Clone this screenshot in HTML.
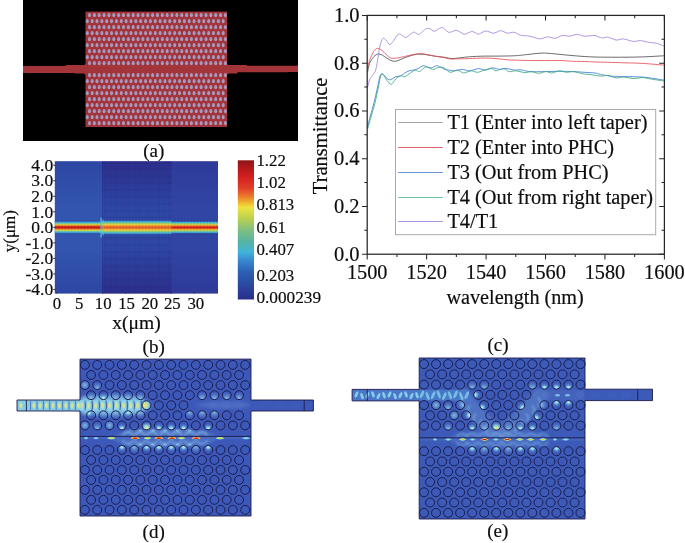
<!DOCTYPE html>
<html><head><meta charset="utf-8"><title>Figure</title>
<style>
html,body{margin:0;padding:0;background:#fff;}
body{width:685px;height:543px;overflow:hidden;}
svg{display:block;}
text{font-family:'Liberation Serif','Times New Roman',serif;fill:#0d0d0d;stroke:#0d0d0d;stroke-width:0.18px;}
</style></head><body>
<svg width="685" height="543" viewBox="0 0 685 543">
<g id="pa">
<rect x="23" y="0" width="275" height="141" fill="#000"/>
<path d="M23,65.9 H65.8 V65.1 H84 L86,64 V75 L84,73.6 H74.5 V72.9 H23 Z" fill="#a3343a"/>
<path d="M226,64 L229,65 H247 V65.8 H298 V72.1 H287.7 V72.2 H237.5 V73.4 H229 L226,75 Z" fill="#a3343a"/>
<rect x="85.5" y="11.6" width="141.6" height="115.4" fill="#a3343a"/>
<g fill="#a59bc1"><ellipse cx="89.5" cy="15.2" rx="1.5" ry="2.15"/><ellipse cx="94.35" cy="15.2" rx="1.5" ry="2.15"/><ellipse cx="99.21" cy="15.2" rx="1.5" ry="2.15"/><ellipse cx="104.06" cy="15.2" rx="1.5" ry="2.15"/><ellipse cx="108.92" cy="15.2" rx="1.5" ry="2.15"/><ellipse cx="113.77" cy="15.2" rx="1.5" ry="2.15"/><ellipse cx="118.62" cy="15.2" rx="1.5" ry="2.15"/><ellipse cx="123.48" cy="15.2" rx="1.5" ry="2.15"/><ellipse cx="128.33" cy="15.2" rx="1.5" ry="2.15"/><ellipse cx="133.19" cy="15.2" rx="1.5" ry="2.15"/><ellipse cx="138.04" cy="15.2" rx="1.5" ry="2.15"/><ellipse cx="142.89" cy="15.2" rx="1.5" ry="2.15"/><ellipse cx="147.75" cy="15.2" rx="1.5" ry="2.15"/><ellipse cx="152.6" cy="15.2" rx="1.5" ry="2.15"/><ellipse cx="157.46" cy="15.2" rx="1.5" ry="2.15"/><ellipse cx="162.31" cy="15.2" rx="1.5" ry="2.15"/><ellipse cx="167.16" cy="15.2" rx="1.5" ry="2.15"/><ellipse cx="172.02" cy="15.2" rx="1.5" ry="2.15"/><ellipse cx="176.87" cy="15.2" rx="1.5" ry="2.15"/><ellipse cx="181.73" cy="15.2" rx="1.5" ry="2.15"/><ellipse cx="186.58" cy="15.2" rx="1.5" ry="2.15"/><ellipse cx="191.43" cy="15.2" rx="1.5" ry="2.15"/><ellipse cx="196.29" cy="15.2" rx="1.5" ry="2.15"/><ellipse cx="201.14" cy="15.2" rx="1.5" ry="2.15"/><ellipse cx="206" cy="15.2" rx="1.5" ry="2.15"/><ellipse cx="210.85" cy="15.2" rx="1.5" ry="2.15"/><ellipse cx="215.7" cy="15.2" rx="1.5" ry="2.15"/><ellipse cx="220.56" cy="15.2" rx="1.5" ry="2.15"/><ellipse cx="225.41" cy="15.2" rx="1.5" ry="2.15"/><ellipse cx="87.3" cy="21.2" rx="1.5" ry="2.15"/><ellipse cx="92.15" cy="21.2" rx="1.5" ry="2.15"/><ellipse cx="97.01" cy="21.2" rx="1.5" ry="2.15"/><ellipse cx="101.86" cy="21.2" rx="1.5" ry="2.15"/><ellipse cx="106.72" cy="21.2" rx="1.5" ry="2.15"/><ellipse cx="111.57" cy="21.2" rx="1.5" ry="2.15"/><ellipse cx="116.42" cy="21.2" rx="1.5" ry="2.15"/><ellipse cx="121.28" cy="21.2" rx="1.5" ry="2.15"/><ellipse cx="126.13" cy="21.2" rx="1.5" ry="2.15"/><ellipse cx="130.99" cy="21.2" rx="1.5" ry="2.15"/><ellipse cx="135.84" cy="21.2" rx="1.5" ry="2.15"/><ellipse cx="140.69" cy="21.2" rx="1.5" ry="2.15"/><ellipse cx="145.55" cy="21.2" rx="1.5" ry="2.15"/><ellipse cx="150.4" cy="21.2" rx="1.5" ry="2.15"/><ellipse cx="155.26" cy="21.2" rx="1.5" ry="2.15"/><ellipse cx="160.11" cy="21.2" rx="1.5" ry="2.15"/><ellipse cx="164.96" cy="21.2" rx="1.5" ry="2.15"/><ellipse cx="169.82" cy="21.2" rx="1.5" ry="2.15"/><ellipse cx="174.67" cy="21.2" rx="1.5" ry="2.15"/><ellipse cx="179.53" cy="21.2" rx="1.5" ry="2.15"/><ellipse cx="184.38" cy="21.2" rx="1.5" ry="2.15"/><ellipse cx="189.23" cy="21.2" rx="1.5" ry="2.15"/><ellipse cx="194.09" cy="21.2" rx="1.5" ry="2.15"/><ellipse cx="198.94" cy="21.2" rx="1.5" ry="2.15"/><ellipse cx="203.8" cy="21.2" rx="1.5" ry="2.15"/><ellipse cx="208.65" cy="21.2" rx="1.5" ry="2.15"/><ellipse cx="213.5" cy="21.2" rx="1.5" ry="2.15"/><ellipse cx="218.36" cy="21.2" rx="1.5" ry="2.15"/><ellipse cx="223.21" cy="21.2" rx="1.5" ry="2.15"/><ellipse cx="89.5" cy="27.2" rx="1.5" ry="2.15"/><ellipse cx="94.35" cy="27.2" rx="1.5" ry="2.15"/><ellipse cx="99.21" cy="27.2" rx="1.5" ry="2.15"/><ellipse cx="104.06" cy="27.2" rx="1.5" ry="2.15"/><ellipse cx="108.92" cy="27.2" rx="1.5" ry="2.15"/><ellipse cx="113.77" cy="27.2" rx="1.5" ry="2.15"/><ellipse cx="118.62" cy="27.2" rx="1.5" ry="2.15"/><ellipse cx="123.48" cy="27.2" rx="1.5" ry="2.15"/><ellipse cx="128.33" cy="27.2" rx="1.5" ry="2.15"/><ellipse cx="133.19" cy="27.2" rx="1.5" ry="2.15"/><ellipse cx="138.04" cy="27.2" rx="1.5" ry="2.15"/><ellipse cx="142.89" cy="27.2" rx="1.5" ry="2.15"/><ellipse cx="147.75" cy="27.2" rx="1.5" ry="2.15"/><ellipse cx="152.6" cy="27.2" rx="1.5" ry="2.15"/><ellipse cx="157.46" cy="27.2" rx="1.5" ry="2.15"/><ellipse cx="162.31" cy="27.2" rx="1.5" ry="2.15"/><ellipse cx="167.16" cy="27.2" rx="1.5" ry="2.15"/><ellipse cx="172.02" cy="27.2" rx="1.5" ry="2.15"/><ellipse cx="176.87" cy="27.2" rx="1.5" ry="2.15"/><ellipse cx="181.73" cy="27.2" rx="1.5" ry="2.15"/><ellipse cx="186.58" cy="27.2" rx="1.5" ry="2.15"/><ellipse cx="191.43" cy="27.2" rx="1.5" ry="2.15"/><ellipse cx="196.29" cy="27.2" rx="1.5" ry="2.15"/><ellipse cx="201.14" cy="27.2" rx="1.5" ry="2.15"/><ellipse cx="206" cy="27.2" rx="1.5" ry="2.15"/><ellipse cx="210.85" cy="27.2" rx="1.5" ry="2.15"/><ellipse cx="215.7" cy="27.2" rx="1.5" ry="2.15"/><ellipse cx="220.56" cy="27.2" rx="1.5" ry="2.15"/><ellipse cx="225.41" cy="27.2" rx="1.5" ry="2.15"/><ellipse cx="87.3" cy="33.2" rx="1.5" ry="2.15"/><ellipse cx="92.15" cy="33.2" rx="1.5" ry="2.15"/><ellipse cx="97.01" cy="33.2" rx="1.5" ry="2.15"/><ellipse cx="101.86" cy="33.2" rx="1.5" ry="2.15"/><ellipse cx="106.72" cy="33.2" rx="1.5" ry="2.15"/><ellipse cx="111.57" cy="33.2" rx="1.5" ry="2.15"/><ellipse cx="116.42" cy="33.2" rx="1.5" ry="2.15"/><ellipse cx="121.28" cy="33.2" rx="1.5" ry="2.15"/><ellipse cx="126.13" cy="33.2" rx="1.5" ry="2.15"/><ellipse cx="130.99" cy="33.2" rx="1.5" ry="2.15"/><ellipse cx="135.84" cy="33.2" rx="1.5" ry="2.15"/><ellipse cx="140.69" cy="33.2" rx="1.5" ry="2.15"/><ellipse cx="145.55" cy="33.2" rx="1.5" ry="2.15"/><ellipse cx="150.4" cy="33.2" rx="1.5" ry="2.15"/><ellipse cx="155.26" cy="33.2" rx="1.5" ry="2.15"/><ellipse cx="160.11" cy="33.2" rx="1.5" ry="2.15"/><ellipse cx="164.96" cy="33.2" rx="1.5" ry="2.15"/><ellipse cx="169.82" cy="33.2" rx="1.5" ry="2.15"/><ellipse cx="174.67" cy="33.2" rx="1.5" ry="2.15"/><ellipse cx="179.53" cy="33.2" rx="1.5" ry="2.15"/><ellipse cx="184.38" cy="33.2" rx="1.5" ry="2.15"/><ellipse cx="189.23" cy="33.2" rx="1.5" ry="2.15"/><ellipse cx="194.09" cy="33.2" rx="1.5" ry="2.15"/><ellipse cx="198.94" cy="33.2" rx="1.5" ry="2.15"/><ellipse cx="203.8" cy="33.2" rx="1.5" ry="2.15"/><ellipse cx="208.65" cy="33.2" rx="1.5" ry="2.15"/><ellipse cx="213.5" cy="33.2" rx="1.5" ry="2.15"/><ellipse cx="218.36" cy="33.2" rx="1.5" ry="2.15"/><ellipse cx="223.21" cy="33.2" rx="1.5" ry="2.15"/><ellipse cx="89.5" cy="39.2" rx="1.5" ry="2.15"/><ellipse cx="94.35" cy="39.2" rx="1.5" ry="2.15"/><ellipse cx="99.21" cy="39.2" rx="1.5" ry="2.15"/><ellipse cx="104.06" cy="39.2" rx="1.5" ry="2.15"/><ellipse cx="108.92" cy="39.2" rx="1.5" ry="2.15"/><ellipse cx="113.77" cy="39.2" rx="1.5" ry="2.15"/><ellipse cx="118.62" cy="39.2" rx="1.5" ry="2.15"/><ellipse cx="123.48" cy="39.2" rx="1.5" ry="2.15"/><ellipse cx="128.33" cy="39.2" rx="1.5" ry="2.15"/><ellipse cx="133.19" cy="39.2" rx="1.5" ry="2.15"/><ellipse cx="138.04" cy="39.2" rx="1.5" ry="2.15"/><ellipse cx="142.89" cy="39.2" rx="1.5" ry="2.15"/><ellipse cx="147.75" cy="39.2" rx="1.5" ry="2.15"/><ellipse cx="152.6" cy="39.2" rx="1.5" ry="2.15"/><ellipse cx="157.46" cy="39.2" rx="1.5" ry="2.15"/><ellipse cx="162.31" cy="39.2" rx="1.5" ry="2.15"/><ellipse cx="167.16" cy="39.2" rx="1.5" ry="2.15"/><ellipse cx="172.02" cy="39.2" rx="1.5" ry="2.15"/><ellipse cx="176.87" cy="39.2" rx="1.5" ry="2.15"/><ellipse cx="181.73" cy="39.2" rx="1.5" ry="2.15"/><ellipse cx="186.58" cy="39.2" rx="1.5" ry="2.15"/><ellipse cx="191.43" cy="39.2" rx="1.5" ry="2.15"/><ellipse cx="196.29" cy="39.2" rx="1.5" ry="2.15"/><ellipse cx="201.14" cy="39.2" rx="1.5" ry="2.15"/><ellipse cx="206" cy="39.2" rx="1.5" ry="2.15"/><ellipse cx="210.85" cy="39.2" rx="1.5" ry="2.15"/><ellipse cx="215.7" cy="39.2" rx="1.5" ry="2.15"/><ellipse cx="220.56" cy="39.2" rx="1.5" ry="2.15"/><ellipse cx="225.41" cy="39.2" rx="1.5" ry="2.15"/><ellipse cx="87.3" cy="45.2" rx="1.5" ry="2.15"/><ellipse cx="92.15" cy="45.2" rx="1.5" ry="2.15"/><ellipse cx="97.01" cy="45.2" rx="1.5" ry="2.15"/><ellipse cx="101.86" cy="45.2" rx="1.5" ry="2.15"/><ellipse cx="106.72" cy="45.2" rx="1.5" ry="2.15"/><ellipse cx="111.57" cy="45.2" rx="1.5" ry="2.15"/><ellipse cx="116.42" cy="45.2" rx="1.5" ry="2.15"/><ellipse cx="121.28" cy="45.2" rx="1.5" ry="2.15"/><ellipse cx="126.13" cy="45.2" rx="1.5" ry="2.15"/><ellipse cx="130.99" cy="45.2" rx="1.5" ry="2.15"/><ellipse cx="135.84" cy="45.2" rx="1.5" ry="2.15"/><ellipse cx="140.69" cy="45.2" rx="1.5" ry="2.15"/><ellipse cx="145.55" cy="45.2" rx="1.5" ry="2.15"/><ellipse cx="150.4" cy="45.2" rx="1.5" ry="2.15"/><ellipse cx="155.26" cy="45.2" rx="1.5" ry="2.15"/><ellipse cx="160.11" cy="45.2" rx="1.5" ry="2.15"/><ellipse cx="164.96" cy="45.2" rx="1.5" ry="2.15"/><ellipse cx="169.82" cy="45.2" rx="1.5" ry="2.15"/><ellipse cx="174.67" cy="45.2" rx="1.5" ry="2.15"/><ellipse cx="179.53" cy="45.2" rx="1.5" ry="2.15"/><ellipse cx="184.38" cy="45.2" rx="1.5" ry="2.15"/><ellipse cx="189.23" cy="45.2" rx="1.5" ry="2.15"/><ellipse cx="194.09" cy="45.2" rx="1.5" ry="2.15"/><ellipse cx="198.94" cy="45.2" rx="1.5" ry="2.15"/><ellipse cx="203.8" cy="45.2" rx="1.5" ry="2.15"/><ellipse cx="208.65" cy="45.2" rx="1.5" ry="2.15"/><ellipse cx="213.5" cy="45.2" rx="1.5" ry="2.15"/><ellipse cx="218.36" cy="45.2" rx="1.5" ry="2.15"/><ellipse cx="223.21" cy="45.2" rx="1.5" ry="2.15"/><ellipse cx="89.5" cy="51.2" rx="1.5" ry="2.15"/><ellipse cx="94.35" cy="51.2" rx="1.5" ry="2.15"/><ellipse cx="99.21" cy="51.2" rx="1.5" ry="2.15"/><ellipse cx="104.06" cy="51.2" rx="1.5" ry="2.15"/><ellipse cx="108.92" cy="51.2" rx="1.5" ry="2.15"/><ellipse cx="113.77" cy="51.2" rx="1.5" ry="2.15"/><ellipse cx="118.62" cy="51.2" rx="1.5" ry="2.15"/><ellipse cx="123.48" cy="51.2" rx="1.5" ry="2.15"/><ellipse cx="128.33" cy="51.2" rx="1.5" ry="2.15"/><ellipse cx="133.19" cy="51.2" rx="1.5" ry="2.15"/><ellipse cx="138.04" cy="51.2" rx="1.5" ry="2.15"/><ellipse cx="142.89" cy="51.2" rx="1.5" ry="2.15"/><ellipse cx="147.75" cy="51.2" rx="1.5" ry="2.15"/><ellipse cx="152.6" cy="51.2" rx="1.5" ry="2.15"/><ellipse cx="157.46" cy="51.2" rx="1.5" ry="2.15"/><ellipse cx="162.31" cy="51.2" rx="1.5" ry="2.15"/><ellipse cx="167.16" cy="51.2" rx="1.5" ry="2.15"/><ellipse cx="172.02" cy="51.2" rx="1.5" ry="2.15"/><ellipse cx="176.87" cy="51.2" rx="1.5" ry="2.15"/><ellipse cx="181.73" cy="51.2" rx="1.5" ry="2.15"/><ellipse cx="186.58" cy="51.2" rx="1.5" ry="2.15"/><ellipse cx="191.43" cy="51.2" rx="1.5" ry="2.15"/><ellipse cx="196.29" cy="51.2" rx="1.5" ry="2.15"/><ellipse cx="201.14" cy="51.2" rx="1.5" ry="2.15"/><ellipse cx="206" cy="51.2" rx="1.5" ry="2.15"/><ellipse cx="210.85" cy="51.2" rx="1.5" ry="2.15"/><ellipse cx="215.7" cy="51.2" rx="1.5" ry="2.15"/><ellipse cx="220.56" cy="51.2" rx="1.5" ry="2.15"/><ellipse cx="225.41" cy="51.2" rx="1.5" ry="2.15"/><ellipse cx="87.3" cy="57.2" rx="1.5" ry="2.15"/><ellipse cx="92.15" cy="57.2" rx="1.5" ry="2.15"/><ellipse cx="97.01" cy="57.2" rx="1.5" ry="2.15"/><ellipse cx="101.86" cy="57.2" rx="1.5" ry="2.15"/><ellipse cx="106.72" cy="57.2" rx="1.5" ry="2.15"/><ellipse cx="111.57" cy="57.2" rx="1.5" ry="2.15"/><ellipse cx="116.42" cy="57.2" rx="1.5" ry="2.15"/><ellipse cx="121.28" cy="57.2" rx="1.5" ry="2.15"/><ellipse cx="126.13" cy="57.2" rx="1.5" ry="2.15"/><ellipse cx="130.99" cy="57.2" rx="1.5" ry="2.15"/><ellipse cx="135.84" cy="57.2" rx="1.5" ry="2.15"/><ellipse cx="140.69" cy="57.2" rx="1.5" ry="2.15"/><ellipse cx="145.55" cy="57.2" rx="1.5" ry="2.15"/><ellipse cx="150.4" cy="57.2" rx="1.5" ry="2.15"/><ellipse cx="155.26" cy="57.2" rx="1.5" ry="2.15"/><ellipse cx="160.11" cy="57.2" rx="1.5" ry="2.15"/><ellipse cx="164.96" cy="57.2" rx="1.5" ry="2.15"/><ellipse cx="169.82" cy="57.2" rx="1.5" ry="2.15"/><ellipse cx="174.67" cy="57.2" rx="1.5" ry="2.15"/><ellipse cx="179.53" cy="57.2" rx="1.5" ry="2.15"/><ellipse cx="184.38" cy="57.2" rx="1.5" ry="2.15"/><ellipse cx="189.23" cy="57.2" rx="1.5" ry="2.15"/><ellipse cx="194.09" cy="57.2" rx="1.5" ry="2.15"/><ellipse cx="198.94" cy="57.2" rx="1.5" ry="2.15"/><ellipse cx="203.8" cy="57.2" rx="1.5" ry="2.15"/><ellipse cx="208.65" cy="57.2" rx="1.5" ry="2.15"/><ellipse cx="213.5" cy="57.2" rx="1.5" ry="2.15"/><ellipse cx="218.36" cy="57.2" rx="1.5" ry="2.15"/><ellipse cx="223.21" cy="57.2" rx="1.5" ry="2.15"/><ellipse cx="89.5" cy="63.2" rx="1.5" ry="2.15"/><ellipse cx="94.35" cy="63.2" rx="1.5" ry="2.15"/><ellipse cx="99.21" cy="63.2" rx="1.5" ry="2.15"/><ellipse cx="104.06" cy="63.2" rx="1.5" ry="2.15"/><ellipse cx="108.92" cy="63.2" rx="1.5" ry="2.15"/><ellipse cx="113.77" cy="63.2" rx="1.5" ry="2.15"/><ellipse cx="118.62" cy="63.2" rx="1.5" ry="2.15"/><ellipse cx="123.48" cy="63.2" rx="1.5" ry="2.15"/><ellipse cx="128.33" cy="63.2" rx="1.5" ry="2.15"/><ellipse cx="133.19" cy="63.2" rx="1.5" ry="2.15"/><ellipse cx="138.04" cy="63.2" rx="1.5" ry="2.15"/><ellipse cx="142.89" cy="63.2" rx="1.5" ry="2.15"/><ellipse cx="147.75" cy="63.2" rx="1.5" ry="2.15"/><ellipse cx="152.6" cy="63.2" rx="1.5" ry="2.15"/><ellipse cx="157.46" cy="63.2" rx="1.5" ry="2.15"/><ellipse cx="162.31" cy="63.2" rx="1.5" ry="2.15"/><ellipse cx="167.16" cy="63.2" rx="1.5" ry="2.15"/><ellipse cx="172.02" cy="63.2" rx="1.5" ry="2.15"/><ellipse cx="176.87" cy="63.2" rx="1.5" ry="2.15"/><ellipse cx="181.73" cy="63.2" rx="1.5" ry="2.15"/><ellipse cx="186.58" cy="63.2" rx="1.5" ry="2.15"/><ellipse cx="191.43" cy="63.2" rx="1.5" ry="2.15"/><ellipse cx="196.29" cy="63.2" rx="1.5" ry="2.15"/><ellipse cx="201.14" cy="63.2" rx="1.5" ry="2.15"/><ellipse cx="206" cy="63.2" rx="1.5" ry="2.15"/><ellipse cx="210.85" cy="63.2" rx="1.5" ry="2.15"/><ellipse cx="215.7" cy="63.2" rx="1.5" ry="2.15"/><ellipse cx="220.56" cy="63.2" rx="1.5" ry="2.15"/><ellipse cx="225.41" cy="63.2" rx="1.5" ry="2.15"/><ellipse cx="89.5" cy="75.2" rx="1.5" ry="2.15"/><ellipse cx="94.35" cy="75.2" rx="1.5" ry="2.15"/><ellipse cx="99.21" cy="75.2" rx="1.5" ry="2.15"/><ellipse cx="104.06" cy="75.2" rx="1.5" ry="2.15"/><ellipse cx="108.92" cy="75.2" rx="1.5" ry="2.15"/><ellipse cx="113.77" cy="75.2" rx="1.5" ry="2.15"/><ellipse cx="118.62" cy="75.2" rx="1.5" ry="2.15"/><ellipse cx="123.48" cy="75.2" rx="1.5" ry="2.15"/><ellipse cx="128.33" cy="75.2" rx="1.5" ry="2.15"/><ellipse cx="133.19" cy="75.2" rx="1.5" ry="2.15"/><ellipse cx="138.04" cy="75.2" rx="1.5" ry="2.15"/><ellipse cx="142.89" cy="75.2" rx="1.5" ry="2.15"/><ellipse cx="147.75" cy="75.2" rx="1.5" ry="2.15"/><ellipse cx="152.6" cy="75.2" rx="1.5" ry="2.15"/><ellipse cx="157.46" cy="75.2" rx="1.5" ry="2.15"/><ellipse cx="162.31" cy="75.2" rx="1.5" ry="2.15"/><ellipse cx="167.16" cy="75.2" rx="1.5" ry="2.15"/><ellipse cx="172.02" cy="75.2" rx="1.5" ry="2.15"/><ellipse cx="176.87" cy="75.2" rx="1.5" ry="2.15"/><ellipse cx="181.73" cy="75.2" rx="1.5" ry="2.15"/><ellipse cx="186.58" cy="75.2" rx="1.5" ry="2.15"/><ellipse cx="191.43" cy="75.2" rx="1.5" ry="2.15"/><ellipse cx="196.29" cy="75.2" rx="1.5" ry="2.15"/><ellipse cx="201.14" cy="75.2" rx="1.5" ry="2.15"/><ellipse cx="206" cy="75.2" rx="1.5" ry="2.15"/><ellipse cx="210.85" cy="75.2" rx="1.5" ry="2.15"/><ellipse cx="215.7" cy="75.2" rx="1.5" ry="2.15"/><ellipse cx="220.56" cy="75.2" rx="1.5" ry="2.15"/><ellipse cx="225.41" cy="75.2" rx="1.5" ry="2.15"/><ellipse cx="87.3" cy="81.2" rx="1.5" ry="2.15"/><ellipse cx="92.15" cy="81.2" rx="1.5" ry="2.15"/><ellipse cx="97.01" cy="81.2" rx="1.5" ry="2.15"/><ellipse cx="101.86" cy="81.2" rx="1.5" ry="2.15"/><ellipse cx="106.72" cy="81.2" rx="1.5" ry="2.15"/><ellipse cx="111.57" cy="81.2" rx="1.5" ry="2.15"/><ellipse cx="116.42" cy="81.2" rx="1.5" ry="2.15"/><ellipse cx="121.28" cy="81.2" rx="1.5" ry="2.15"/><ellipse cx="126.13" cy="81.2" rx="1.5" ry="2.15"/><ellipse cx="130.99" cy="81.2" rx="1.5" ry="2.15"/><ellipse cx="135.84" cy="81.2" rx="1.5" ry="2.15"/><ellipse cx="140.69" cy="81.2" rx="1.5" ry="2.15"/><ellipse cx="145.55" cy="81.2" rx="1.5" ry="2.15"/><ellipse cx="150.4" cy="81.2" rx="1.5" ry="2.15"/><ellipse cx="155.26" cy="81.2" rx="1.5" ry="2.15"/><ellipse cx="160.11" cy="81.2" rx="1.5" ry="2.15"/><ellipse cx="164.96" cy="81.2" rx="1.5" ry="2.15"/><ellipse cx="169.82" cy="81.2" rx="1.5" ry="2.15"/><ellipse cx="174.67" cy="81.2" rx="1.5" ry="2.15"/><ellipse cx="179.53" cy="81.2" rx="1.5" ry="2.15"/><ellipse cx="184.38" cy="81.2" rx="1.5" ry="2.15"/><ellipse cx="189.23" cy="81.2" rx="1.5" ry="2.15"/><ellipse cx="194.09" cy="81.2" rx="1.5" ry="2.15"/><ellipse cx="198.94" cy="81.2" rx="1.5" ry="2.15"/><ellipse cx="203.8" cy="81.2" rx="1.5" ry="2.15"/><ellipse cx="208.65" cy="81.2" rx="1.5" ry="2.15"/><ellipse cx="213.5" cy="81.2" rx="1.5" ry="2.15"/><ellipse cx="218.36" cy="81.2" rx="1.5" ry="2.15"/><ellipse cx="223.21" cy="81.2" rx="1.5" ry="2.15"/><ellipse cx="89.5" cy="87.2" rx="1.5" ry="2.15"/><ellipse cx="94.35" cy="87.2" rx="1.5" ry="2.15"/><ellipse cx="99.21" cy="87.2" rx="1.5" ry="2.15"/><ellipse cx="104.06" cy="87.2" rx="1.5" ry="2.15"/><ellipse cx="108.92" cy="87.2" rx="1.5" ry="2.15"/><ellipse cx="113.77" cy="87.2" rx="1.5" ry="2.15"/><ellipse cx="118.62" cy="87.2" rx="1.5" ry="2.15"/><ellipse cx="123.48" cy="87.2" rx="1.5" ry="2.15"/><ellipse cx="128.33" cy="87.2" rx="1.5" ry="2.15"/><ellipse cx="133.19" cy="87.2" rx="1.5" ry="2.15"/><ellipse cx="138.04" cy="87.2" rx="1.5" ry="2.15"/><ellipse cx="142.89" cy="87.2" rx="1.5" ry="2.15"/><ellipse cx="147.75" cy="87.2" rx="1.5" ry="2.15"/><ellipse cx="152.6" cy="87.2" rx="1.5" ry="2.15"/><ellipse cx="157.46" cy="87.2" rx="1.5" ry="2.15"/><ellipse cx="162.31" cy="87.2" rx="1.5" ry="2.15"/><ellipse cx="167.16" cy="87.2" rx="1.5" ry="2.15"/><ellipse cx="172.02" cy="87.2" rx="1.5" ry="2.15"/><ellipse cx="176.87" cy="87.2" rx="1.5" ry="2.15"/><ellipse cx="181.73" cy="87.2" rx="1.5" ry="2.15"/><ellipse cx="186.58" cy="87.2" rx="1.5" ry="2.15"/><ellipse cx="191.43" cy="87.2" rx="1.5" ry="2.15"/><ellipse cx="196.29" cy="87.2" rx="1.5" ry="2.15"/><ellipse cx="201.14" cy="87.2" rx="1.5" ry="2.15"/><ellipse cx="206" cy="87.2" rx="1.5" ry="2.15"/><ellipse cx="210.85" cy="87.2" rx="1.5" ry="2.15"/><ellipse cx="215.7" cy="87.2" rx="1.5" ry="2.15"/><ellipse cx="220.56" cy="87.2" rx="1.5" ry="2.15"/><ellipse cx="225.41" cy="87.2" rx="1.5" ry="2.15"/><ellipse cx="87.3" cy="93.2" rx="1.5" ry="2.15"/><ellipse cx="92.15" cy="93.2" rx="1.5" ry="2.15"/><ellipse cx="97.01" cy="93.2" rx="1.5" ry="2.15"/><ellipse cx="101.86" cy="93.2" rx="1.5" ry="2.15"/><ellipse cx="106.72" cy="93.2" rx="1.5" ry="2.15"/><ellipse cx="111.57" cy="93.2" rx="1.5" ry="2.15"/><ellipse cx="116.42" cy="93.2" rx="1.5" ry="2.15"/><ellipse cx="121.28" cy="93.2" rx="1.5" ry="2.15"/><ellipse cx="126.13" cy="93.2" rx="1.5" ry="2.15"/><ellipse cx="130.99" cy="93.2" rx="1.5" ry="2.15"/><ellipse cx="135.84" cy="93.2" rx="1.5" ry="2.15"/><ellipse cx="140.69" cy="93.2" rx="1.5" ry="2.15"/><ellipse cx="145.55" cy="93.2" rx="1.5" ry="2.15"/><ellipse cx="150.4" cy="93.2" rx="1.5" ry="2.15"/><ellipse cx="155.26" cy="93.2" rx="1.5" ry="2.15"/><ellipse cx="160.11" cy="93.2" rx="1.5" ry="2.15"/><ellipse cx="164.96" cy="93.2" rx="1.5" ry="2.15"/><ellipse cx="169.82" cy="93.2" rx="1.5" ry="2.15"/><ellipse cx="174.67" cy="93.2" rx="1.5" ry="2.15"/><ellipse cx="179.53" cy="93.2" rx="1.5" ry="2.15"/><ellipse cx="184.38" cy="93.2" rx="1.5" ry="2.15"/><ellipse cx="189.23" cy="93.2" rx="1.5" ry="2.15"/><ellipse cx="194.09" cy="93.2" rx="1.5" ry="2.15"/><ellipse cx="198.94" cy="93.2" rx="1.5" ry="2.15"/><ellipse cx="203.8" cy="93.2" rx="1.5" ry="2.15"/><ellipse cx="208.65" cy="93.2" rx="1.5" ry="2.15"/><ellipse cx="213.5" cy="93.2" rx="1.5" ry="2.15"/><ellipse cx="218.36" cy="93.2" rx="1.5" ry="2.15"/><ellipse cx="223.21" cy="93.2" rx="1.5" ry="2.15"/><ellipse cx="89.5" cy="99.2" rx="1.5" ry="2.15"/><ellipse cx="94.35" cy="99.2" rx="1.5" ry="2.15"/><ellipse cx="99.21" cy="99.2" rx="1.5" ry="2.15"/><ellipse cx="104.06" cy="99.2" rx="1.5" ry="2.15"/><ellipse cx="108.92" cy="99.2" rx="1.5" ry="2.15"/><ellipse cx="113.77" cy="99.2" rx="1.5" ry="2.15"/><ellipse cx="118.62" cy="99.2" rx="1.5" ry="2.15"/><ellipse cx="123.48" cy="99.2" rx="1.5" ry="2.15"/><ellipse cx="128.33" cy="99.2" rx="1.5" ry="2.15"/><ellipse cx="133.19" cy="99.2" rx="1.5" ry="2.15"/><ellipse cx="138.04" cy="99.2" rx="1.5" ry="2.15"/><ellipse cx="142.89" cy="99.2" rx="1.5" ry="2.15"/><ellipse cx="147.75" cy="99.2" rx="1.5" ry="2.15"/><ellipse cx="152.6" cy="99.2" rx="1.5" ry="2.15"/><ellipse cx="157.46" cy="99.2" rx="1.5" ry="2.15"/><ellipse cx="162.31" cy="99.2" rx="1.5" ry="2.15"/><ellipse cx="167.16" cy="99.2" rx="1.5" ry="2.15"/><ellipse cx="172.02" cy="99.2" rx="1.5" ry="2.15"/><ellipse cx="176.87" cy="99.2" rx="1.5" ry="2.15"/><ellipse cx="181.73" cy="99.2" rx="1.5" ry="2.15"/><ellipse cx="186.58" cy="99.2" rx="1.5" ry="2.15"/><ellipse cx="191.43" cy="99.2" rx="1.5" ry="2.15"/><ellipse cx="196.29" cy="99.2" rx="1.5" ry="2.15"/><ellipse cx="201.14" cy="99.2" rx="1.5" ry="2.15"/><ellipse cx="206" cy="99.2" rx="1.5" ry="2.15"/><ellipse cx="210.85" cy="99.2" rx="1.5" ry="2.15"/><ellipse cx="215.7" cy="99.2" rx="1.5" ry="2.15"/><ellipse cx="220.56" cy="99.2" rx="1.5" ry="2.15"/><ellipse cx="225.41" cy="99.2" rx="1.5" ry="2.15"/><ellipse cx="87.3" cy="105.2" rx="1.5" ry="2.15"/><ellipse cx="92.15" cy="105.2" rx="1.5" ry="2.15"/><ellipse cx="97.01" cy="105.2" rx="1.5" ry="2.15"/><ellipse cx="101.86" cy="105.2" rx="1.5" ry="2.15"/><ellipse cx="106.72" cy="105.2" rx="1.5" ry="2.15"/><ellipse cx="111.57" cy="105.2" rx="1.5" ry="2.15"/><ellipse cx="116.42" cy="105.2" rx="1.5" ry="2.15"/><ellipse cx="121.28" cy="105.2" rx="1.5" ry="2.15"/><ellipse cx="126.13" cy="105.2" rx="1.5" ry="2.15"/><ellipse cx="130.99" cy="105.2" rx="1.5" ry="2.15"/><ellipse cx="135.84" cy="105.2" rx="1.5" ry="2.15"/><ellipse cx="140.69" cy="105.2" rx="1.5" ry="2.15"/><ellipse cx="145.55" cy="105.2" rx="1.5" ry="2.15"/><ellipse cx="150.4" cy="105.2" rx="1.5" ry="2.15"/><ellipse cx="155.26" cy="105.2" rx="1.5" ry="2.15"/><ellipse cx="160.11" cy="105.2" rx="1.5" ry="2.15"/><ellipse cx="164.96" cy="105.2" rx="1.5" ry="2.15"/><ellipse cx="169.82" cy="105.2" rx="1.5" ry="2.15"/><ellipse cx="174.67" cy="105.2" rx="1.5" ry="2.15"/><ellipse cx="179.53" cy="105.2" rx="1.5" ry="2.15"/><ellipse cx="184.38" cy="105.2" rx="1.5" ry="2.15"/><ellipse cx="189.23" cy="105.2" rx="1.5" ry="2.15"/><ellipse cx="194.09" cy="105.2" rx="1.5" ry="2.15"/><ellipse cx="198.94" cy="105.2" rx="1.5" ry="2.15"/><ellipse cx="203.8" cy="105.2" rx="1.5" ry="2.15"/><ellipse cx="208.65" cy="105.2" rx="1.5" ry="2.15"/><ellipse cx="213.5" cy="105.2" rx="1.5" ry="2.15"/><ellipse cx="218.36" cy="105.2" rx="1.5" ry="2.15"/><ellipse cx="223.21" cy="105.2" rx="1.5" ry="2.15"/><ellipse cx="89.5" cy="111.2" rx="1.5" ry="2.15"/><ellipse cx="94.35" cy="111.2" rx="1.5" ry="2.15"/><ellipse cx="99.21" cy="111.2" rx="1.5" ry="2.15"/><ellipse cx="104.06" cy="111.2" rx="1.5" ry="2.15"/><ellipse cx="108.92" cy="111.2" rx="1.5" ry="2.15"/><ellipse cx="113.77" cy="111.2" rx="1.5" ry="2.15"/><ellipse cx="118.62" cy="111.2" rx="1.5" ry="2.15"/><ellipse cx="123.48" cy="111.2" rx="1.5" ry="2.15"/><ellipse cx="128.33" cy="111.2" rx="1.5" ry="2.15"/><ellipse cx="133.19" cy="111.2" rx="1.5" ry="2.15"/><ellipse cx="138.04" cy="111.2" rx="1.5" ry="2.15"/><ellipse cx="142.89" cy="111.2" rx="1.5" ry="2.15"/><ellipse cx="147.75" cy="111.2" rx="1.5" ry="2.15"/><ellipse cx="152.6" cy="111.2" rx="1.5" ry="2.15"/><ellipse cx="157.46" cy="111.2" rx="1.5" ry="2.15"/><ellipse cx="162.31" cy="111.2" rx="1.5" ry="2.15"/><ellipse cx="167.16" cy="111.2" rx="1.5" ry="2.15"/><ellipse cx="172.02" cy="111.2" rx="1.5" ry="2.15"/><ellipse cx="176.87" cy="111.2" rx="1.5" ry="2.15"/><ellipse cx="181.73" cy="111.2" rx="1.5" ry="2.15"/><ellipse cx="186.58" cy="111.2" rx="1.5" ry="2.15"/><ellipse cx="191.43" cy="111.2" rx="1.5" ry="2.15"/><ellipse cx="196.29" cy="111.2" rx="1.5" ry="2.15"/><ellipse cx="201.14" cy="111.2" rx="1.5" ry="2.15"/><ellipse cx="206" cy="111.2" rx="1.5" ry="2.15"/><ellipse cx="210.85" cy="111.2" rx="1.5" ry="2.15"/><ellipse cx="215.7" cy="111.2" rx="1.5" ry="2.15"/><ellipse cx="220.56" cy="111.2" rx="1.5" ry="2.15"/><ellipse cx="225.41" cy="111.2" rx="1.5" ry="2.15"/><ellipse cx="87.3" cy="117.2" rx="1.5" ry="2.15"/><ellipse cx="92.15" cy="117.2" rx="1.5" ry="2.15"/><ellipse cx="97.01" cy="117.2" rx="1.5" ry="2.15"/><ellipse cx="101.86" cy="117.2" rx="1.5" ry="2.15"/><ellipse cx="106.72" cy="117.2" rx="1.5" ry="2.15"/><ellipse cx="111.57" cy="117.2" rx="1.5" ry="2.15"/><ellipse cx="116.42" cy="117.2" rx="1.5" ry="2.15"/><ellipse cx="121.28" cy="117.2" rx="1.5" ry="2.15"/><ellipse cx="126.13" cy="117.2" rx="1.5" ry="2.15"/><ellipse cx="130.99" cy="117.2" rx="1.5" ry="2.15"/><ellipse cx="135.84" cy="117.2" rx="1.5" ry="2.15"/><ellipse cx="140.69" cy="117.2" rx="1.5" ry="2.15"/><ellipse cx="145.55" cy="117.2" rx="1.5" ry="2.15"/><ellipse cx="150.4" cy="117.2" rx="1.5" ry="2.15"/><ellipse cx="155.26" cy="117.2" rx="1.5" ry="2.15"/><ellipse cx="160.11" cy="117.2" rx="1.5" ry="2.15"/><ellipse cx="164.96" cy="117.2" rx="1.5" ry="2.15"/><ellipse cx="169.82" cy="117.2" rx="1.5" ry="2.15"/><ellipse cx="174.67" cy="117.2" rx="1.5" ry="2.15"/><ellipse cx="179.53" cy="117.2" rx="1.5" ry="2.15"/><ellipse cx="184.38" cy="117.2" rx="1.5" ry="2.15"/><ellipse cx="189.23" cy="117.2" rx="1.5" ry="2.15"/><ellipse cx="194.09" cy="117.2" rx="1.5" ry="2.15"/><ellipse cx="198.94" cy="117.2" rx="1.5" ry="2.15"/><ellipse cx="203.8" cy="117.2" rx="1.5" ry="2.15"/><ellipse cx="208.65" cy="117.2" rx="1.5" ry="2.15"/><ellipse cx="213.5" cy="117.2" rx="1.5" ry="2.15"/><ellipse cx="218.36" cy="117.2" rx="1.5" ry="2.15"/><ellipse cx="223.21" cy="117.2" rx="1.5" ry="2.15"/><ellipse cx="89.5" cy="123.2" rx="1.5" ry="2.15"/><ellipse cx="94.35" cy="123.2" rx="1.5" ry="2.15"/><ellipse cx="99.21" cy="123.2" rx="1.5" ry="2.15"/><ellipse cx="104.06" cy="123.2" rx="1.5" ry="2.15"/><ellipse cx="108.92" cy="123.2" rx="1.5" ry="2.15"/><ellipse cx="113.77" cy="123.2" rx="1.5" ry="2.15"/><ellipse cx="118.62" cy="123.2" rx="1.5" ry="2.15"/><ellipse cx="123.48" cy="123.2" rx="1.5" ry="2.15"/><ellipse cx="128.33" cy="123.2" rx="1.5" ry="2.15"/><ellipse cx="133.19" cy="123.2" rx="1.5" ry="2.15"/><ellipse cx="138.04" cy="123.2" rx="1.5" ry="2.15"/><ellipse cx="142.89" cy="123.2" rx="1.5" ry="2.15"/><ellipse cx="147.75" cy="123.2" rx="1.5" ry="2.15"/><ellipse cx="152.6" cy="123.2" rx="1.5" ry="2.15"/><ellipse cx="157.46" cy="123.2" rx="1.5" ry="2.15"/><ellipse cx="162.31" cy="123.2" rx="1.5" ry="2.15"/><ellipse cx="167.16" cy="123.2" rx="1.5" ry="2.15"/><ellipse cx="172.02" cy="123.2" rx="1.5" ry="2.15"/><ellipse cx="176.87" cy="123.2" rx="1.5" ry="2.15"/><ellipse cx="181.73" cy="123.2" rx="1.5" ry="2.15"/><ellipse cx="186.58" cy="123.2" rx="1.5" ry="2.15"/><ellipse cx="191.43" cy="123.2" rx="1.5" ry="2.15"/><ellipse cx="196.29" cy="123.2" rx="1.5" ry="2.15"/><ellipse cx="201.14" cy="123.2" rx="1.5" ry="2.15"/><ellipse cx="206" cy="123.2" rx="1.5" ry="2.15"/><ellipse cx="210.85" cy="123.2" rx="1.5" ry="2.15"/><ellipse cx="215.7" cy="123.2" rx="1.5" ry="2.15"/><ellipse cx="220.56" cy="123.2" rx="1.5" ry="2.15"/><ellipse cx="225.41" cy="123.2" rx="1.5" ry="2.15"/></g>
</g>
<text x="153.7" y="157.2" font-size="19" text-anchor="middle">(a)</text>
<defs>
<linearGradient id="bleft" gradientUnits="userSpaceOnUse" x1="0" x2="0" y1="161.2" y2="293.6"><stop offset="0" stop-color="#2d47a3"/><stop offset="0.36" stop-color="#3355b0"/><stop offset="0.64" stop-color="#3355b0"/><stop offset="1" stop-color="#2d47a3"/></linearGradient>
<linearGradient id="bmid" gradientUnits="userSpaceOnUse" x1="0" x2="0" y1="161.2" y2="293.6"><stop offset="0" stop-color="#2c2f8c"/><stop offset="0.36" stop-color="#2f4aa8"/><stop offset="0.64" stop-color="#2f4aa8"/><stop offset="1" stop-color="#2c2f8c"/></linearGradient>
<linearGradient id="bright" gradientUnits="userSpaceOnUse" x1="0" x2="0" y1="161.2" y2="293.6"><stop offset="0" stop-color="#2f3a99"/><stop offset="0.36" stop-color="#3145a4"/><stop offset="0.64" stop-color="#3145a4"/><stop offset="1" stop-color="#2f3a99"/></linearGradient>
<linearGradient id="beamL" x1="0" x2="0" y1="0" y2="1"><stop offset="0" stop-color="#3355b0" stop-opacity="0"/><stop offset="0.07" stop-color="#3a8cd0"/><stop offset="0.15" stop-color="#48c0d8"/><stop offset="0.26" stop-color="#c8dc50"/><stop offset="0.34" stop-color="#f0a030"/><stop offset="0.42" stop-color="#e03a22"/><stop offset="0.5" stop-color="#c81a18"/><stop offset="0.58" stop-color="#e03a22"/><stop offset="0.66" stop-color="#f0a030"/><stop offset="0.74" stop-color="#c8dc50"/><stop offset="0.85" stop-color="#48c0d8"/><stop offset="0.93" stop-color="#3a8cd0"/><stop offset="1" stop-color="#3355b0" stop-opacity="0"/></linearGradient>
<linearGradient id="beamM" x1="0" x2="0" y1="0" y2="1"><stop offset="0" stop-color="#2f4aa8" stop-opacity="0"/><stop offset="0.07" stop-color="#3a8cd0"/><stop offset="0.14" stop-color="#48bcd8"/><stop offset="0.23" stop-color="#9cd06c"/><stop offset="0.31" stop-color="#eed444"/><stop offset="0.39" stop-color="#f2a032"/><stop offset="0.46" stop-color="#ec6a2a"/><stop offset="0.5" stop-color="#e85c26"/><stop offset="0.54" stop-color="#ec6a2a"/><stop offset="0.61" stop-color="#f2a032"/><stop offset="0.69" stop-color="#eed444"/><stop offset="0.77" stop-color="#9cd06c"/><stop offset="0.86" stop-color="#48bcd8"/><stop offset="0.93" stop-color="#3a8cd0"/><stop offset="1" stop-color="#2f4aa8" stop-opacity="0"/></linearGradient>
<linearGradient id="beamR" x1="0" x2="0" y1="0" y2="1"><stop offset="0" stop-color="#3145a4" stop-opacity="0"/><stop offset="0.07" stop-color="#3a8cd0"/><stop offset="0.14" stop-color="#48c0d8"/><stop offset="0.25" stop-color="#b8d858"/><stop offset="0.34" stop-color="#f0b038"/><stop offset="0.42" stop-color="#e84a24"/><stop offset="0.5" stop-color="#d81e1c"/><stop offset="0.58" stop-color="#e84a24"/><stop offset="0.66" stop-color="#f0b038"/><stop offset="0.75" stop-color="#b8d858"/><stop offset="0.86" stop-color="#48c0d8"/><stop offset="0.93" stop-color="#3a8cd0"/><stop offset="1" stop-color="#3145a4" stop-opacity="0"/></linearGradient>
<linearGradient id="cbar" x1="0" x2="0" y1="0" y2="1"><stop offset="0" stop-color="#8a1616"/><stop offset="0.05" stop-color="#b01818"/><stop offset="0.12" stop-color="#d42020"/><stop offset="0.2" stop-color="#e04028"/><stop offset="0.26" stop-color="#ec7a2c"/><stop offset="0.31" stop-color="#f0c030"/><stop offset="0.34" stop-color="#eee440"/><stop offset="0.42" stop-color="#b8d050"/><stop offset="0.5" stop-color="#80c080"/><stop offset="0.58" stop-color="#58b4a0"/><stop offset="0.66" stop-color="#40b4d8"/><stop offset="0.72" stop-color="#3888d0"/><stop offset="0.8" stop-color="#2c60b4"/><stop offset="0.9" stop-color="#2a48a0"/><stop offset="1" stop-color="#2a2c8c"/></linearGradient>
<pattern id="hband" x="0" y="161.2" width="20" height="6.9" patternUnits="userSpaceOnUse"><rect y="0" width="20" height="2.2" fill="#1c1c70" fill-opacity="0.13"/></pattern>
<pattern id="vband" x="102.0" y="0" width="2.2" height="20" patternUnits="userSpaceOnUse"><rect width="1.0" height="20" fill="#1c1c70" fill-opacity="0.15"/></pattern>
<pattern id="vstripe" x="0" y="0" width="1.45" height="10" patternUnits="userSpaceOnUse"><rect width="0.7" height="10" fill="#000" fill-opacity="0.07"/></pattern>
</defs>
<rect x="54.8" y="161.2" width="47.7" height="132.4" fill="url(#bleft)"/>
<rect x="171" y="161.2" width="47" height="132.4" fill="url(#bright)"/>
<rect x="102" y="161.2" width="69.5" height="132.4" fill="url(#bmid)"/>
<rect x="102" y="161.2" width="69.5" height="132.4" fill="url(#hband)"/>
<rect x="102" y="161.2" width="69.5" height="132.4" fill="url(#vband)"/>
<rect x="170.9" y="220.9" width="47.1" height="13.0" fill="url(#beamR)"/>
<rect x="102" y="219.9" width="69.5" height="15.0" fill="url(#beamM)"/>
<rect x="54.8" y="220.9" width="47.5" height="13.0" fill="url(#beamL)"/>
<rect x="54.8" y="219.8" width="163.2" height="15.2" fill="url(#vstripe)"/>
<g filter="url(#bl1)"><rect x="100.4" y="217.5" width="1.3" height="20" rx="0.6" fill="#60c4d8" fill-opacity="0.9"/><rect x="102.6" y="219.5" width="1.1" height="16" rx="0.5" fill="#70c8d0" fill-opacity="0.7"/></g>
<text transform="translate(53.2,170.9) scale(1.06,1)" font-size="16.5" text-anchor="end">4.0</text>
<line x1="53.2" x2="55.4" y1="165.2" y2="165.2" stroke="#222" stroke-width="0.9"/>
<text transform="translate(53.2,186.44) scale(1.06,1)" font-size="16.5" text-anchor="end">3.0</text>
<line x1="53.2" x2="55.4" y1="180.74" y2="180.74" stroke="#222" stroke-width="0.9"/>
<text transform="translate(53.2,201.98) scale(1.06,1)" font-size="16.5" text-anchor="end">2.0</text>
<line x1="53.2" x2="55.4" y1="196.28" y2="196.28" stroke="#222" stroke-width="0.9"/>
<text transform="translate(53.2,217.52) scale(1.06,1)" font-size="16.5" text-anchor="end">1.0</text>
<line x1="53.2" x2="55.4" y1="211.82" y2="211.82" stroke="#222" stroke-width="0.9"/>
<text transform="translate(53.2,233.06) scale(1.06,1)" font-size="16.5" text-anchor="end">0.0</text>
<line x1="53.2" x2="55.4" y1="227.36" y2="227.36" stroke="#222" stroke-width="0.9"/>
<text transform="translate(53.2,248.6) scale(1.06,1)" font-size="16.5" text-anchor="end">-1.0</text>
<line x1="53.2" x2="55.4" y1="242.9" y2="242.9" stroke="#222" stroke-width="0.9"/>
<text transform="translate(53.2,264.14) scale(1.06,1)" font-size="16.5" text-anchor="end">-2.0</text>
<line x1="53.2" x2="55.4" y1="258.44" y2="258.44" stroke="#222" stroke-width="0.9"/>
<text transform="translate(53.2,279.68) scale(1.06,1)" font-size="16.5" text-anchor="end">-3.0</text>
<line x1="53.2" x2="55.4" y1="273.98" y2="273.98" stroke="#222" stroke-width="0.9"/>
<text transform="translate(53.2,295.22) scale(1.06,1)" font-size="16.5" text-anchor="end">-4.0</text>
<line x1="53.2" x2="55.4" y1="289.52" y2="289.52" stroke="#222" stroke-width="0.9"/>
<text transform="translate(57,309.2) scale(1.02,1)" font-size="16.5" text-anchor="middle">0</text>
<line x1="56.8" x2="56.8" y1="292" y2="293.6" stroke="#333" stroke-width="0.9"/>
<text transform="translate(79.2,309.2) scale(1.02,1)" font-size="16.5" text-anchor="middle">5</text>
<line x1="79.7" x2="79.7" y1="292" y2="293.6" stroke="#333" stroke-width="0.9"/>
<text transform="translate(103.2,309.2) scale(1.02,1)" font-size="16.5" text-anchor="middle">10</text>
<line x1="102.6" x2="102.6" y1="292" y2="293.6" stroke="#333" stroke-width="0.9"/>
<text transform="translate(126.6,309.2) scale(1.02,1)" font-size="16.5" text-anchor="middle">15</text>
<line x1="125.5" x2="125.5" y1="292" y2="293.6" stroke="#333" stroke-width="0.9"/>
<text transform="translate(149.8,309.2) scale(1.02,1)" font-size="16.5" text-anchor="middle">20</text>
<line x1="148.4" x2="148.4" y1="292" y2="293.6" stroke="#333" stroke-width="0.9"/>
<text transform="translate(172.3,309.2) scale(1.02,1)" font-size="16.5" text-anchor="middle">25</text>
<line x1="171.3" x2="171.3" y1="292" y2="293.6" stroke="#333" stroke-width="0.9"/>
<text transform="translate(195.8,309.2) scale(1.02,1)" font-size="16.5" text-anchor="middle">30</text>
<line x1="194.2" x2="194.2" y1="292" y2="293.6" stroke="#333" stroke-width="0.9"/>
<text transform="translate(136.5,329.3) scale(1.03,1)" font-size="19" text-anchor="middle">x(μm)</text>
<text transform="translate(15.2,231.1) rotate(-90)" font-size="17" text-anchor="middle">y(μm)</text>
<rect x="237.8" y="160.3" width="16.2" height="139.2" fill="url(#cbar)"/>
<text transform="translate(256.4,165.6) scale(1.02,1)" font-size="16.5">1.22</text>
<text transform="translate(256.4,187.9) scale(1.02,1)" font-size="16.5">1.02</text>
<text transform="translate(256.4,209.8) scale(1.02,1)" font-size="16.5">0.813</text>
<text transform="translate(256.4,232.7) scale(1.02,1)" font-size="16.5">0.61</text>
<text transform="translate(256.4,255) scale(1.02,1)" font-size="16.5">0.407</text>
<text transform="translate(256.4,280.9) scale(1.02,1)" font-size="16.5">0.203</text>
<text transform="translate(256.4,302.7) scale(1.045,1)" font-size="16.5">0.000239</text>
<text x="153.7" y="352.8" font-size="19" text-anchor="middle">(b)</text>
<g fill="none" stroke-width="0.85">
<path d="M367.5,72.5 C367.83,71 368.68,65.83 369.5,63.5 C370.32,61.17 371.48,59.83 372.4,58.5 C373.32,57.17 374.1,56.25 375,55.5 C375.9,54.75 376.97,54.2 377.8,54 C378.63,53.8 379.18,54.07 380,54.3 C380.82,54.53 381.52,54.73 382.7,55.4 C383.88,56.07 385.5,57.37 387.1,58.3 C388.7,59.23 390.7,60.55 392.3,61 C393.9,61.45 395.12,61.33 396.7,61 C398.28,60.67 399.72,59.82 401.8,59 C403.88,58.18 406.73,56.88 409.2,56.1 C411.67,55.32 414.63,54.62 416.6,54.3 C418.57,53.98 419.28,54.12 421,54.2 C422.72,54.28 424.7,54.48 426.9,54.8 C429.1,55.12 432.02,55.77 434.2,56.1 C436.38,56.43 438.2,56.6 440,56.8 C441.8,57 443.03,57 445,57.3 C446.97,57.6 449.3,58.52 451.8,58.6 C454.3,58.68 457.05,58.1 460,57.8 C462.95,57.5 465.47,57.08 469.5,56.8 C473.53,56.52 479.3,56.22 484.2,56.1 C489.1,55.98 493.98,56.15 498.9,56.1 C503.82,56.05 510.18,55.93 513.7,55.8 C517.22,55.67 517.82,55.5 520,55.3 C522.18,55.1 523.22,54.97 526.8,54.6 C530.38,54.23 537.33,53.27 541.5,53.1 C545.67,52.93 548.37,53.35 551.8,53.6 C555.23,53.85 558.42,54.25 562.1,54.6 C565.78,54.95 570.22,55.38 573.9,55.7 C577.58,56.02 580.68,56.28 584.2,56.5 C587.72,56.72 591.12,56.88 595,57 C598.88,57.12 602.5,57.17 607.5,57.2 C612.5,57.23 619.17,57.25 625,57.2 C630.83,57.15 636.03,57.13 642.5,56.9 C648.97,56.67 660.25,55.98 663.8,55.8" stroke="#525252"/>
<path d="M367.5,68 C367.83,66.75 368.82,62.6 369.5,60.5 C370.18,58.4 370.93,56.9 371.6,55.4 C372.27,53.9 372.88,52.48 373.5,51.5 C374.12,50.52 374.63,50.03 375.3,49.5 C375.97,48.97 376.63,48.3 377.5,48.3 C378.37,48.3 379.38,48.82 380.5,49.5 C381.62,50.18 382.85,51.18 384.2,52.4 C385.55,53.62 387.25,55.82 388.6,56.8 C389.95,57.78 390.83,58.1 392.3,58.3 C393.77,58.5 395.57,58.25 397.4,58 C399.23,57.75 401.33,57.23 403.3,56.8 C405.27,56.37 407.23,55.83 409.2,55.4 C411.17,54.97 413.27,54.5 415.1,54.2 C416.93,53.9 418.48,53.6 420.2,53.6 C421.92,53.6 423.55,53.9 425.4,54.2 C427.25,54.5 429.33,55.02 431.3,55.4 C433.27,55.78 435.42,56.18 437.2,56.5 C438.98,56.82 440.7,57.08 442,57.3 C443.3,57.52 443.62,57.52 445,57.8 C446.38,58.08 447.8,58.83 450.3,59 C452.8,59.17 456.8,58.87 460,58.8 C463.2,58.73 465.47,58.73 469.5,58.6 C473.53,58.47 479.78,58 484.2,58 C488.62,58 492.07,58.3 496,58.6 C499.93,58.9 504.63,59.55 507.8,59.8 C510.97,60.05 511.35,59.98 515,60.1 C518.65,60.22 524.78,60.43 529.7,60.5 C534.62,60.57 539.58,60.5 544.5,60.5 C549.42,60.5 554.3,60.37 559.2,60.5 C564.1,60.63 569.73,61.13 573.9,61.3 C578.07,61.47 580.68,61.38 584.2,61.5 C587.72,61.62 591.12,61.87 595,62 C598.88,62.13 602.5,62.17 607.5,62.3 C612.5,62.43 619.17,62.62 625,62.8 C630.83,62.98 636.03,63.02 642.5,63.4 C648.97,63.78 660.25,64.82 663.8,65.1" stroke="#e74f57"/>
<path d="M367.4,127.8 C367.88,125.83 369.2,120.18 370.3,116 C371.4,111.82 372.77,107.62 374,102.7 C375.23,97.78 376.72,90.92 377.7,86.5 C378.68,82.08 379.17,78.28 379.9,76.2 C380.63,74.12 381.37,74.12 382.1,74 C382.83,73.88 383.57,74.83 384.3,75.5 C385.03,76.17 385.67,77.28 386.5,78 C387.33,78.72 388.33,79.65 389.3,79.8 C390.27,79.95 391.2,79.42 392.3,78.9 C393.4,78.38 394.55,77.18 395.9,76.7 C397.25,76.22 398.92,76.62 400.4,76 C401.88,75.38 403.33,73.87 404.8,73 C406.27,72.13 407.73,71.28 409.2,70.8 C410.67,70.32 412.13,70.47 413.6,70.1 C415.07,69.73 416.4,69.33 418,68.6 C419.6,67.87 421.72,65.98 423.2,65.7 C424.68,65.42 425.55,66.53 426.9,66.9 C428.25,67.27 429.7,68.1 431.3,67.9 C432.9,67.7 435.03,65.87 436.5,65.7 C437.97,65.53 438.68,66.28 440.1,66.9 C441.52,67.52 443.55,68.87 445,69.4 C446.45,69.93 447.18,69.87 448.8,70.1 C450.42,70.33 452.48,70.92 454.7,70.8 C456.92,70.68 459.63,69.4 462.1,69.4 C464.57,69.4 466.8,70.93 469.5,70.8 C472.2,70.67 475.6,68.72 478.3,68.6 C481,68.48 483.37,70.22 485.7,70.1 C488.03,69.98 489.85,68.02 492.3,67.9 C494.75,67.78 498.07,69.33 500.4,69.4 C502.73,69.47 504.08,68.18 506.3,68.3 C508.52,68.42 511.27,69.85 513.7,70.1 C516.13,70.35 518.23,69.55 520.9,69.8 C523.57,70.05 525.77,71.3 529.7,71.6 C533.63,71.9 539.58,71.65 544.5,71.6 C549.42,71.55 554.3,71.3 559.2,71.3 C564.1,71.3 569.73,71.43 573.9,71.6 C578.07,71.77 580.68,72.07 584.2,72.3 C587.72,72.53 592.28,72.65 595,73 C597.72,73.35 597.83,73.88 600.5,74.4 C603.17,74.92 607.5,75.75 611,76.1 C614.5,76.45 617.42,76.38 621.5,76.5 C625.58,76.62 631.42,76.65 635.5,76.8 C639.58,76.95 641.28,76.87 646,77.4 C650.72,77.93 660.83,79.57 663.8,80" stroke="#437ed8"/>
<path d="M367.6,129 C368.17,127 369.8,121.25 371,117 C372.2,112.75 373.57,108.5 374.8,103.5 C376.03,98.5 377.47,91.42 378.4,87 C379.33,82.58 379.82,79.2 380.4,77 C380.98,74.8 381.3,74.05 381.9,73.8 C382.5,73.55 383.15,74.38 384,75.5 C384.85,76.62 385.85,79.03 387,80.5 C388.15,81.97 389.82,84.05 390.9,84.3 C391.98,84.55 392.67,82.9 393.5,82 C394.33,81.1 394.75,79.95 395.9,78.9 C397.05,77.85 398.92,76.07 400.4,75.7 C401.88,75.33 403.33,77.02 404.8,76.7 C406.27,76.38 407.48,74.9 409.2,73.8 C410.92,72.7 413.38,70.47 415.1,70.1 C416.82,69.73 418.03,71.97 419.5,71.6 C420.97,71.23 422.67,68.68 423.9,67.9 C425.13,67.12 425.42,66.65 426.9,66.9 C428.38,67.15 431.08,69.23 432.8,69.4 C434.52,69.57 435.73,68.28 437.2,67.9 C438.67,67.52 440.3,66.98 441.6,67.1 C442.9,67.22 443.55,67.73 445,68.6 C446.45,69.47 448.18,72.05 450.3,72.3 C452.42,72.55 455.48,69.98 457.7,70.1 C459.92,70.22 461.4,72.88 463.6,73 C465.8,73.12 468.57,70.92 470.9,70.8 C473.23,70.68 475.38,72.42 477.6,72.3 C479.82,72.18 481.87,70.72 484.2,70.1 C486.53,69.48 489.63,68.48 491.6,68.6 C493.57,68.72 494.03,70.8 496,70.8 C497.97,70.8 501.2,68.47 503.4,68.6 C505.6,68.73 507.25,71.23 509.2,71.6 C511.15,71.97 513.3,70.8 515.1,70.8 C516.9,70.8 518.3,71.28 520,71.6 C521.7,71.92 523.43,72.7 525.3,72.7 C527.17,72.7 528.98,71.5 531.2,71.6 C533.42,71.7 536.15,73.3 538.6,73.3 C541.05,73.3 543.7,71.65 545.9,71.6 C548.1,71.55 549.58,73.13 551.8,73 C554.02,72.87 556.73,70.92 559.2,70.8 C561.67,70.68 564.15,72.17 566.6,72.3 C569.05,72.43 571.2,71.35 573.9,71.6 C576.6,71.85 580.12,73.32 582.8,73.8 C585.48,74.28 587.05,74.12 590,74.5 C592.95,74.88 597.5,75.93 600.5,76.1 C603.5,76.27 605.38,75.2 608,75.5 C610.62,75.8 613.53,77.65 616.2,77.9 C618.87,78.15 621.08,76.88 624,77 C626.92,77.12 630.7,78.52 633.7,78.6 C636.7,78.68 639.08,77.42 642,77.5 C644.92,77.58 647.57,78.53 651.2,79.1 C654.83,79.67 661.7,80.6 663.8,80.9" stroke="#3ca880"/>
<path d="M367.5,88 C367.83,86.67 368.67,82.08 369.5,80 C370.33,77.92 371.5,77.08 372.5,75.5 C373.5,73.92 374.67,72.92 375.5,70.5 C376.33,68.08 376.83,64.75 377.5,61 C378.17,57.25 378.83,51.33 379.5,48 C380.17,44.67 380.83,42.63 381.5,41 C382.17,39.37 382.75,38.37 383.5,38.2 C384.25,38.03 385,38.95 386,40 C387,41.05 388.33,44.25 389.5,44.5 C390.67,44.75 391.83,42.92 393,41.5 C394.17,40.08 395.42,37.25 396.5,36 C397.58,34.75 398.42,34 399.5,34 C400.58,34 401.92,35.42 403,36 C404.08,36.58 404.83,37.75 406,37.5 C407.17,37.25 408.75,35.38 410,34.5 C411.25,33.62 412.5,32.45 413.5,32.2 C414.5,31.95 415.12,32.62 416,33 C416.88,33.38 417.72,34.75 418.8,34.5 C419.88,34.25 421.22,32.5 422.5,31.5 C423.78,30.5 425.25,28.95 426.5,28.5 C427.75,28.05 428.75,28.35 430,28.8 C431.25,29.25 432.58,31.17 434,31.2 C435.42,31.23 437.17,29.62 438.5,29 C439.83,28.38 440.92,27.42 442,27.5 C443.08,27.58 443.87,28.7 445,29.5 C446.13,30.3 447.55,31.97 448.8,32.3 C450.05,32.63 451.27,31.83 452.5,31.5 C453.73,31.17 454.95,30.22 456.2,30.3 C457.45,30.38 458.65,31.35 460,32 C461.35,32.65 462.97,34.03 464.3,34.2 C465.63,34.37 466.77,33.45 468,33 C469.23,32.55 470.53,31.58 471.7,31.5 C472.87,31.42 473.9,32.05 475,32.5 C476.1,32.95 477.13,34.2 478.3,34.2 C479.47,34.2 480.77,33.03 482,32.5 C483.23,31.97 484.45,31.08 485.7,31 C486.95,30.92 488.28,31.62 489.5,32 C490.72,32.38 491.75,33.3 493,33.3 C494.25,33.3 495.77,32.45 497,32 C498.23,31.55 499.23,30.63 500.4,30.6 C501.57,30.57 502.77,31.35 504,31.8 C505.23,32.25 506.63,33.18 507.8,33.3 C508.97,33.42 509.97,32.67 511,32.5 C512.03,32.33 513,32.13 514,32.3 C515,32.47 515.92,33.02 517,33.5 C518.08,33.98 519.17,34.83 520.5,35.2 C521.83,35.57 523.47,35.53 525,35.7 C526.53,35.87 528.12,35.9 529.7,36.2 C531.28,36.5 532.9,37.05 534.5,37.5 C536.1,37.95 537.8,38.82 539.3,38.9 C540.8,38.98 542.15,38.33 543.5,38 C544.85,37.67 546.15,36.98 547.4,36.9 C548.65,36.82 549.77,37.25 551,37.5 C552.23,37.75 553.55,38.48 554.8,38.4 C556.05,38.32 557.28,37.48 558.5,37 C559.72,36.52 560.85,35.7 562.1,35.5 C563.35,35.3 564.77,35.68 566,35.8 C567.23,35.92 568.33,36.28 569.5,36.2 C570.67,36.12 571.77,35.62 573,35.3 C574.23,34.98 575.65,34.32 576.9,34.3 C578.15,34.28 579.28,34.88 580.5,35.2 C581.72,35.52 582.7,36.1 584.2,36.2 C585.7,36.3 587.7,35.92 589.5,35.8 C591.3,35.68 593.5,35.33 595,35.5 C596.5,35.67 597.3,36.38 598.5,36.8 C599.7,37.22 601.12,37.88 602.2,38 C603.28,38.12 604.12,37.65 605,37.5 C605.88,37.35 606.33,36.92 607.5,37.1 C608.67,37.28 610.55,38.1 612,38.6 C613.45,39.1 614.95,39.95 616.2,40.1 C617.45,40.25 618.33,39.7 619.5,39.5 C620.67,39.3 621.7,38.78 623.2,38.9 C624.7,39.02 626.75,39.77 628.5,40.2 C630.25,40.63 632.28,41.37 633.7,41.5 C635.12,41.63 635.83,41.15 637,41 C638.17,40.85 639.37,40.52 640.7,40.6 C642.03,40.68 643.53,41.2 645,41.5 C646.47,41.8 648.17,42.18 649.5,42.4 C650.83,42.62 651.83,42.67 653,42.8 C654.17,42.93 655.33,42.92 656.5,43.2 C657.67,43.48 658.78,44.03 660,44.5 C661.22,44.97 663.17,45.75 663.8,46" stroke="#a384da"/>
</g>
<rect x="367.2" y="15.4" width="297.2" height="238.8" fill="none" stroke="#262626" stroke-width="1.25"/>
<text x="359.6" y="260.7" font-size="20.5" text-anchor="end">0.0</text>
<text x="359.6" y="212.94" font-size="20.5" text-anchor="end">0.2</text>
<text x="359.6" y="165.18" font-size="20.5" text-anchor="end">0.4</text>
<text x="359.6" y="117.42" font-size="20.5" text-anchor="end">0.6</text>
<text x="359.6" y="69.66" font-size="20.5" text-anchor="end">0.8</text>
<text x="359.6" y="21.9" font-size="20.5" text-anchor="end">1.0</text>
<text x="367.2" y="278.5" font-size="20.3" text-anchor="middle">1500</text>
<text x="426.64" y="278.5" font-size="20.3" text-anchor="middle">1520</text>
<text x="486.08" y="278.5" font-size="20.3" text-anchor="middle">1540</text>
<text x="545.52" y="278.5" font-size="20.3" text-anchor="middle">1560</text>
<text x="604.96" y="278.5" font-size="20.3" text-anchor="middle">1580</text>
<text x="664.4" y="278.5" font-size="20.3" text-anchor="middle">1600</text>
<path d="M362,254.2H367.2M659.2,254.2H664.4M364.3,230.32H367.2M661.5,230.32H664.4M362,206.44H367.2M659.2,206.44H664.4M364.3,182.56H367.2M661.5,182.56H664.4M362,158.68H367.2M659.2,158.68H664.4M364.3,134.8H367.2M661.5,134.8H664.4M362,110.92H367.2M659.2,110.92H664.4M364.3,87.04H367.2M661.5,87.04H664.4M362,63.16H367.2M659.2,63.16H664.4M364.3,39.28H367.2M661.5,39.28H664.4M362,15.4H367.2M659.2,15.4H664.4M367.2,254.2V259.4M367.2,15.4V20.6M396.92,254.2V257.1M396.92,15.4V18.3M426.64,254.2V259.4M426.64,15.4V20.6M456.36,254.2V257.1M456.36,15.4V18.3M486.08,254.2V259.4M486.08,15.4V20.6M515.8,254.2V257.1M515.8,15.4V18.3M545.52,254.2V259.4M545.52,15.4V20.6M575.24,254.2V257.1M575.24,15.4V18.3M604.96,254.2V259.4M604.96,15.4V20.6M634.68,254.2V257.1M634.68,15.4V18.3M664.4,254.2V259.4M664.4,15.4V20.6" stroke="#262626" stroke-width="1.05" fill="none"/>
<text transform="translate(515.1,303.5) scale(1.01,1)" font-size="20" text-anchor="middle">wavelength (nm)</text>
<text transform="translate(327.3,135.9) rotate(-90)" font-size="20.5" text-anchor="middle">Transmittance</text>
<rect x="395.5" y="109.5" width="260.2" height="125.2" fill="#fff" stroke="#ababab" stroke-width="1"/>
<line x1="398.2" x2="442.8" y1="122.5" y2="122.5" stroke="#a2a2a2" stroke-width="1"/>
<text transform="translate(447.4,129.4) scale(1.018,1)" font-size="20">T1 (Enter into left taper)</text>
<line x1="398.2" x2="442.8" y1="147.5" y2="147.5" stroke="#e2606a" stroke-width="1"/>
<text transform="translate(447.4,154.4) scale(1.018,1)" font-size="20">T2 (Enter into PHC)</text>
<line x1="398.2" x2="442.8" y1="172.5" y2="172.5" stroke="#6690da" stroke-width="1"/>
<text transform="translate(447.4,179.4) scale(1.018,1)" font-size="20">T3 (Out from PHC)</text>
<line x1="398.2" x2="442.8" y1="197.5" y2="197.5" stroke="#6cc6a6" stroke-width="1"/>
<text transform="translate(447.4,204.4) scale(1.018,1)" font-size="20">T4 (Out from right taper)</text>
<line x1="398.2" x2="442.8" y1="221.5" y2="221.5" stroke="#ac92de" stroke-width="1"/>
<text transform="translate(447.4,228.4) scale(1.018,1)" font-size="20">T4/T1</text>
<text x="498" y="351.2" font-size="19" text-anchor="middle">(c)</text>
<defs><radialGradient id="hB" cx="0.5" cy="0.85" fx="0.5" fy="0.85" r="0.72"><stop offset="0" stop-color="#bff0ec"/><stop offset="0.22" stop-color="#8cd4ea"/><stop offset="0.5" stop-color="#5f96d6" stop-opacity="0.55"/><stop offset="0.85" stop-color="#4a6cc4" stop-opacity="0"/></radialGradient><radialGradient id="fB" cx="0.5" cy="0.85" fx="0.5" fy="0.85" r="0.75"><stop offset="0" stop-color="#8cc8ea" stop-opacity="0.9"/><stop offset="0.5" stop-color="#6a9cd8" stop-opacity="0.5"/><stop offset="1" stop-color="#4a6cc4" stop-opacity="0"/></radialGradient><radialGradient id="hT" cx="0.5" cy="0.15" fx="0.5" fy="0.15" r="0.72"><stop offset="0" stop-color="#bff0ec"/><stop offset="0.22" stop-color="#8cd4ea"/><stop offset="0.5" stop-color="#5f96d6" stop-opacity="0.55"/><stop offset="0.85" stop-color="#4a6cc4" stop-opacity="0"/></radialGradient><radialGradient id="fT" cx="0.5" cy="0.15" fx="0.5" fy="0.15" r="0.75"><stop offset="0" stop-color="#8cc8ea" stop-opacity="0.9"/><stop offset="0.5" stop-color="#6a9cd8" stop-opacity="0.5"/><stop offset="1" stop-color="#4a6cc4" stop-opacity="0"/></radialGradient><radialGradient id="hL" cx="0.15" cy="0.5" fx="0.15" fy="0.5" r="0.72"><stop offset="0" stop-color="#bff0ec"/><stop offset="0.22" stop-color="#8cd4ea"/><stop offset="0.5" stop-color="#5f96d6" stop-opacity="0.55"/><stop offset="0.85" stop-color="#4a6cc4" stop-opacity="0"/></radialGradient><radialGradient id="fL" cx="0.15" cy="0.5" fx="0.15" fy="0.5" r="0.75"><stop offset="0" stop-color="#8cc8ea" stop-opacity="0.9"/><stop offset="0.5" stop-color="#6a9cd8" stop-opacity="0.5"/><stop offset="1" stop-color="#4a6cc4" stop-opacity="0"/></radialGradient><radialGradient id="hR" cx="0.85" cy="0.5" fx="0.85" fy="0.5" r="0.72"><stop offset="0" stop-color="#bff0ec"/><stop offset="0.22" stop-color="#8cd4ea"/><stop offset="0.5" stop-color="#5f96d6" stop-opacity="0.55"/><stop offset="0.85" stop-color="#4a6cc4" stop-opacity="0"/></radialGradient><radialGradient id="fR" cx="0.85" cy="0.5" fx="0.85" fy="0.5" r="0.75"><stop offset="0" stop-color="#8cc8ea" stop-opacity="0.9"/><stop offset="0.5" stop-color="#6a9cd8" stop-opacity="0.5"/><stop offset="1" stop-color="#4a6cc4" stop-opacity="0"/></radialGradient><radialGradient id="hBL" cx="0.25" cy="0.78" fx="0.25" fy="0.78" r="0.72"><stop offset="0" stop-color="#bff0ec"/><stop offset="0.22" stop-color="#8cd4ea"/><stop offset="0.5" stop-color="#5f96d6" stop-opacity="0.55"/><stop offset="0.85" stop-color="#4a6cc4" stop-opacity="0"/></radialGradient><radialGradient id="fBL" cx="0.25" cy="0.78" fx="0.25" fy="0.78" r="0.75"><stop offset="0" stop-color="#8cc8ea" stop-opacity="0.9"/><stop offset="0.5" stop-color="#6a9cd8" stop-opacity="0.5"/><stop offset="1" stop-color="#4a6cc4" stop-opacity="0"/></radialGradient><radialGradient id="hBR" cx="0.75" cy="0.78" fx="0.75" fy="0.78" r="0.72"><stop offset="0" stop-color="#bff0ec"/><stop offset="0.22" stop-color="#8cd4ea"/><stop offset="0.5" stop-color="#5f96d6" stop-opacity="0.55"/><stop offset="0.85" stop-color="#4a6cc4" stop-opacity="0"/></radialGradient><radialGradient id="fBR" cx="0.75" cy="0.78" fx="0.75" fy="0.78" r="0.75"><stop offset="0" stop-color="#8cc8ea" stop-opacity="0.9"/><stop offset="0.5" stop-color="#6a9cd8" stop-opacity="0.5"/><stop offset="1" stop-color="#4a6cc4" stop-opacity="0"/></radialGradient><radialGradient id="hTL" cx="0.25" cy="0.22" fx="0.25" fy="0.22" r="0.72"><stop offset="0" stop-color="#bff0ec"/><stop offset="0.22" stop-color="#8cd4ea"/><stop offset="0.5" stop-color="#5f96d6" stop-opacity="0.55"/><stop offset="0.85" stop-color="#4a6cc4" stop-opacity="0"/></radialGradient><radialGradient id="fTL" cx="0.25" cy="0.22" fx="0.25" fy="0.22" r="0.75"><stop offset="0" stop-color="#8cc8ea" stop-opacity="0.9"/><stop offset="0.5" stop-color="#6a9cd8" stop-opacity="0.5"/><stop offset="1" stop-color="#4a6cc4" stop-opacity="0"/></radialGradient><radialGradient id="hTR" cx="0.75" cy="0.22" fx="0.75" fy="0.22" r="0.72"><stop offset="0" stop-color="#bff0ec"/><stop offset="0.22" stop-color="#8cd4ea"/><stop offset="0.5" stop-color="#5f96d6" stop-opacity="0.55"/><stop offset="0.85" stop-color="#4a6cc4" stop-opacity="0"/></radialGradient><radialGradient id="fTR" cx="0.75" cy="0.22" fx="0.75" fy="0.22" r="0.75"><stop offset="0" stop-color="#8cc8ea" stop-opacity="0.9"/><stop offset="0.5" stop-color="#6a9cd8" stop-opacity="0.5"/><stop offset="1" stop-color="#4a6cc4" stop-opacity="0"/></radialGradient><radialGradient id="hC" cx="0.5" cy="0.5" fx="0.5" fy="0.5" r="0.72"><stop offset="0" stop-color="#bff0ec"/><stop offset="0.22" stop-color="#8cd4ea"/><stop offset="0.5" stop-color="#5f96d6" stop-opacity="0.55"/><stop offset="0.85" stop-color="#4a6cc4" stop-opacity="0"/></radialGradient><radialGradient id="fC" cx="0.5" cy="0.5" fx="0.5" fy="0.5" r="0.75"><stop offset="0" stop-color="#8cc8ea" stop-opacity="0.9"/><stop offset="0.5" stop-color="#6a9cd8" stop-opacity="0.5"/><stop offset="1" stop-color="#4a6cc4" stop-opacity="0"/></radialGradient><radialGradient id="hY" cx="0.3" cy="0.5" fx="0.25" fy="0.5" r="0.7"><stop offset="0" stop-color="#f0e070"/><stop offset="0.35" stop-color="#d4e48c"/><stop offset="0.7" stop-color="#86d0e6"/><stop offset="1" stop-color="#5a8ed0"/></radialGradient><radialGradient id="hYB" cx="0.5" cy="0.82" r="0.7"><stop offset="0" stop-color="#e8e880"/><stop offset="0.35" stop-color="#a8e0d0"/><stop offset="0.7" stop-color="#70b0e0" stop-opacity="0.7"/><stop offset="1" stop-color="#4a6cc4" stop-opacity="0"/></radialGradient><radialGradient id="spR" cx="0.5" cy="0.5" r="0.5"><stop offset="0" stop-color="#c81010"/><stop offset="0.4" stop-color="#e84a24"/><stop offset="0.7" stop-color="#e8d050"/><stop offset="1" stop-color="#70c8d8" stop-opacity="0"/></radialGradient><radialGradient id="spY" cx="0.5" cy="0.5" r="0.5"><stop offset="0" stop-color="#f0d040"/><stop offset="0.5" stop-color="#c8dc70"/><stop offset="0.8" stop-color="#70c8d8"/><stop offset="1" stop-color="#70c8d8" stop-opacity="0"/></radialGradient><radialGradient id="spC" cx="0.5" cy="0.5" r="0.5"><stop offset="0" stop-color="#a8e4e4"/><stop offset="0.6" stop-color="#70c0e0"/><stop offset="1" stop-color="#70c8d8" stop-opacity="0"/></radialGradient><radialGradient id="blobY" cx="0.5" cy="0.5" r="0.5"><stop offset="0" stop-color="#eee47a"/><stop offset="0.55" stop-color="#d4e490" stop-opacity="0.85"/><stop offset="1" stop-color="#9ad8e4" stop-opacity="0"/></radialGradient><radialGradient id="blobC" cx="0.5" cy="0.5" r="0.5"><stop offset="0" stop-color="#9ce6f0"/><stop offset="0.55" stop-color="#7cc8ea" stop-opacity="0.75"/><stop offset="1" stop-color="#6090d0" stop-opacity="0"/></radialGradient><filter id="bl1" x="-20%" y="-20%" width="140%" height="140%"><feGaussianBlur stdDeviation="0.7"/></filter><filter id="bl15" x="-20%" y="-20%" width="140%" height="140%"><feGaussianBlur stdDeviation="1.0"/></filter><filter id="bl2" x="-20%" y="-20%" width="140%" height="140%"><feGaussianBlur stdDeviation="1.6"/></filter></defs>
<rect x="80" y="359.1" width="171" height="156.9" fill="#3c58b8"/>
<ellipse cx="112" cy="405.5" rx="40" ry="11" fill="#7ab8e4" fill-opacity="0.45" filter="url(#bl2)"/><ellipse cx="165" cy="438" rx="52" ry="10" fill="#6c9ade" fill-opacity="0.35" filter="url(#bl2)"/><ellipse cx="225" cy="405" rx="26" ry="4" fill="#5a7ccc" fill-opacity="0.5" filter="url(#bl2)"/><rect x="80" y="398.6" width="64" height="13.8" rx="3" fill="#7ec4e6" fill-opacity="0.8" filter="url(#bl2)"/><rect x="80" y="400.3" width="62" height="10.4" fill="#8ed2e8" filter="url(#bl1)"/><ellipse cx="81.5" cy="405.5" rx="2.5" ry="4.6" fill="url(#blobY)" fill-opacity="0.9"/><ellipse cx="88.5" cy="405.5" rx="2.5" ry="4.6" fill="url(#blobY)" fill-opacity="0.9"/><ellipse cx="95.5" cy="405.5" rx="2.5" ry="4.6" fill="url(#blobY)" fill-opacity="0.9"/><ellipse cx="102.5" cy="405.5" rx="2.5" ry="4.6" fill="url(#blobY)" fill-opacity="0.9"/><ellipse cx="109.5" cy="405.5" rx="2.5" ry="4.6" fill="url(#blobY)" fill-opacity="0.9"/><ellipse cx="116.5" cy="405.5" rx="2.5" ry="4.6" fill="url(#blobY)" fill-opacity="0.9"/><ellipse cx="123.5" cy="405.5" rx="2.5" ry="4.6" fill="url(#blobY)" fill-opacity="0.9"/><ellipse cx="130.5" cy="405.5" rx="2.5" ry="4.6" fill="url(#blobY)" fill-opacity="0.9"/><ellipse cx="137.5" cy="405.5" rx="2.5" ry="4.6" fill="url(#blobY)" fill-opacity="0.9"/><g stroke="#4466bc" stroke-width="1.7" stroke-opacity="0.75" filter="url(#bl1)"><path d="M85,400.5 Q86.2,405.5 85,410.5"/><path d="M92,400.5 Q93.2,405.5 92,410.5"/><path d="M99,400.5 Q100.2,405.5 99,410.5"/><path d="M106,400.5 Q107.2,405.5 106,410.5"/><path d="M113,400.5 Q114.2,405.5 113,410.5"/><path d="M120,400.5 Q121.2,405.5 120,410.5"/><path d="M127,400.5 Q128.2,405.5 127,410.5"/><path d="M134,400.5 Q135.2,405.5 134,410.5"/><path d="M141,400.5 Q142.2,405.5 141,410.5"/></g><g fill="#86cce8" fill-opacity="0.55" filter="url(#bl2)"><ellipse cx="85" cy="399" rx="3" ry="3.5"/><ellipse cx="85" cy="412" rx="3" ry="3.5"/><ellipse cx="97.33" cy="399" rx="3" ry="3.5"/><ellipse cx="97.33" cy="412" rx="3" ry="3.5"/><ellipse cx="109.66" cy="399" rx="3" ry="3.5"/><ellipse cx="109.66" cy="412" rx="3" ry="3.5"/><ellipse cx="121.99" cy="399" rx="3" ry="3.5"/><ellipse cx="121.99" cy="412" rx="3" ry="3.5"/><ellipse cx="134.32" cy="399" rx="3" ry="3.5"/><ellipse cx="134.32" cy="412" rx="3" ry="3.5"/></g><path d="M122.83,435.62 A5.5,5.5 0 0 1 133.17,435.62 M133.17,440.38 A5.5,5.5 0 0 1 122.83,440.38 M134.83,435.62 A5.5,5.5 0 0 1 145.17,435.62 M145.17,440.38 A5.5,5.5 0 0 1 134.83,440.38 M146.83,435.62 A5.5,5.5 0 0 1 157.17,435.62 M157.17,440.38 A5.5,5.5 0 0 1 146.83,440.38 M159.83,435.62 A5.5,5.5 0 0 1 170.17,435.62 M170.17,440.38 A5.5,5.5 0 0 1 159.83,440.38 M171.83,435.62 A5.5,5.5 0 0 1 182.17,435.62 M182.17,440.38 A5.5,5.5 0 0 1 171.83,440.38 M184.83,435.62 A5.5,5.5 0 0 1 195.17,435.62 M195.17,440.38 A5.5,5.5 0 0 1 184.83,440.38 M196.83,435.62 A5.5,5.5 0 0 1 207.17,435.62 M207.17,440.38 A5.5,5.5 0 0 1 196.83,440.38" fill="none" stroke="#9adcec" stroke-opacity="0.7" stroke-width="1.3" filter="url(#bl15)"/><path d="M127.45,432.91 A8,8 0 0 1 140.55,432.91 M151.45,432.91 A8,8 0 0 1 164.55,432.91 M177.45,432.91 A8,8 0 0 1 190.55,432.91 M140.55,443.09 A8,8 0 0 1 127.45,443.09 M164.55,443.09 A8,8 0 0 1 151.45,443.09 M190.55,443.09 A8,8 0 0 1 177.45,443.09" fill="none" stroke="#9adcec" stroke-opacity="0.5" stroke-width="1.0" filter="url(#bl15)"/><g fill="#98dcec" fill-opacity="0.55" filter="url(#bl1)"><ellipse cx="140.4" cy="430.6" rx="1.8" ry="1.1"/><ellipse cx="140.4" cy="444.6" rx="1.8" ry="1.1"/><ellipse cx="152.8" cy="430.6" rx="1.8" ry="1.1"/><ellipse cx="152.8" cy="444.6" rx="1.8" ry="1.1"/><ellipse cx="165.1" cy="430.6" rx="1.8" ry="1.1"/><ellipse cx="165.1" cy="444.6" rx="1.8" ry="1.1"/><ellipse cx="177.4" cy="430.6" rx="1.8" ry="1.1"/><ellipse cx="177.4" cy="444.6" rx="1.8" ry="1.1"/><ellipse cx="189.7" cy="430.6" rx="1.8" ry="1.1"/><ellipse cx="189.7" cy="444.6" rx="1.8" ry="1.1"/></g><path d="M201,405.5 A3,2.5 0 1 1 201,405.46 M215,405.5 A3,2.5 0 1 1 215,405.46 M229,405.5 A3,2.5 0 1 1 229,405.46 M243,405.5 A3,2.5 0 1 1 243,405.46" fill="none" stroke="#7aa4dc" stroke-opacity="0.25" stroke-width="0.8" filter="url(#bl15)"/>
<rect x="17" y="400" width="63.5" height="11" fill="#86cbe4"/>
<ellipse cx="21" cy="405.5" rx="2.1" ry="4.0" fill="url(#blobY)"/><ellipse cx="33.8" cy="405.5" rx="2.1" ry="4.0" fill="url(#blobY)"/><ellipse cx="40.2" cy="405.5" rx="2.1" ry="4.0" fill="url(#blobY)"/><ellipse cx="46.6" cy="405.5" rx="2.1" ry="4.0" fill="url(#blobY)"/><ellipse cx="53" cy="405.5" rx="2.1" ry="4.0" fill="url(#blobY)"/><ellipse cx="59.4" cy="405.5" rx="2.1" ry="4.0" fill="url(#blobY)"/><ellipse cx="65.8" cy="405.5" rx="2.1" ry="4.0" fill="url(#blobY)"/><ellipse cx="72.2" cy="405.5" rx="2.1" ry="4.0" fill="url(#blobY)"/><ellipse cx="78.6" cy="405.5" rx="2.1" ry="4.0" fill="url(#blobY)"/>
<g stroke="#3558b0" stroke-width="1.0" stroke-opacity="0.7" filter="url(#bl1)"><line x1="30.6" x2="30.6" y1="401" y2="410"/><line x1="37" x2="37" y1="401" y2="410"/><line x1="43.4" x2="43.4" y1="401" y2="410"/><line x1="49.8" x2="49.8" y1="401" y2="410"/><line x1="56.2" x2="56.2" y1="401" y2="410"/><line x1="62.6" x2="62.6" y1="401" y2="410"/><line x1="69" x2="69" y1="401" y2="410"/><line x1="75.4" x2="75.4" y1="401" y2="410"/></g>
<rect x="250.5" y="400" width="63" height="11" fill="#3c58b8"/>
<path d="M265,405.5 A3,2 0 1 1 265,405.47 M283,405.5 A3,2 0 1 1 283,405.47 M299,405.5 A3,2 0 1 1 299,405.47" fill="none" stroke="#6a94d8" stroke-opacity="0.2" stroke-width="0.8" filter="url(#bl15)"/>
<circle cx="91.1" cy="395.14" r="4.45" fill="url(#fB)"/><circle cx="103.43" cy="395.14" r="4.45" fill="url(#hB)"/><circle cx="115.76" cy="395.14" r="4.45" fill="url(#fB)"/><circle cx="128.09" cy="395.14" r="4.45" fill="url(#fB)"/><circle cx="140.42" cy="395.14" r="4.45" fill="url(#fB)"/><circle cx="91.1" cy="415.3" r="4.45" fill="url(#hTL)"/><circle cx="103.43" cy="415.3" r="4.45" fill="url(#fT)"/><circle cx="115.76" cy="415.3" r="4.45" fill="url(#fT)"/><circle cx="128.09" cy="415.3" r="4.45" fill="url(#hT)"/><circle cx="140.42" cy="415.3" r="4.45" fill="url(#fT)"/><circle cx="146.55" cy="405.22" r="4.45" fill="url(#hY)"/><circle cx="121.89" cy="425.38" r="4.45" fill="url(#hB)"/><circle cx="146.55" cy="425.38" r="4.45" fill="url(#hYB)"/><circle cx="158.88" cy="425.38" r="4.45" fill="url(#hB)"/><circle cx="171.21" cy="425.38" r="4.45" fill="url(#hB)"/><circle cx="183.54" cy="425.38" r="4.45" fill="url(#hB)"/><circle cx="208.2" cy="425.38" r="4.45" fill="url(#hB)"/><circle cx="121.89" cy="450" r="4.45" fill="url(#hT)"/><circle cx="146.55" cy="450" r="4.45" fill="url(#hT)"/><circle cx="158.88" cy="450" r="4.45" fill="url(#hT)"/><circle cx="171.21" cy="450" r="4.45" fill="url(#hT)"/><circle cx="183.54" cy="450" r="4.45" fill="url(#hT)"/><circle cx="208.2" cy="450" r="4.45" fill="url(#hT)"/><circle cx="134.22" cy="450" r="4.45" fill="url(#fT)"/><circle cx="195.87" cy="450" r="4.45" fill="url(#fT)"/><circle cx="84.9" cy="385.06" r="4.45" fill="url(#fC)"/><circle cx="97.23" cy="385.06" r="4.45" fill="url(#fB)"/><circle cx="239.06" cy="395.14" r="4.45" fill="url(#fB)"/><circle cx="202.07" cy="395.14" r="4.45" fill="url(#fB)"/><circle cx="214.4" cy="395.14" r="4.45" fill="url(#fB)"/><circle cx="226.73" cy="395.14" r="4.45" fill="url(#fB)"/><circle cx="189.74" cy="415.3" r="4.45" fill="url(#fT)"/><circle cx="202.07" cy="415.3" r="4.45" fill="url(#fT)"/><circle cx="214.4" cy="415.3" r="4.45" fill="url(#fT)"/><circle cx="84.9" cy="425.38" r="4.45" fill="url(#fC)"/><circle cx="97.23" cy="425.38" r="4.45" fill="url(#fB)"/><circle cx="109.56" cy="425.38" r="4.45" fill="url(#fC)"/>
<g fill="none" stroke="#1d1c4c" stroke-width="1.0"><circle cx="84.9" cy="364.9" r="4.45"/><circle cx="97.23" cy="364.9" r="4.45"/><circle cx="109.56" cy="364.9" r="4.45"/><circle cx="121.89" cy="364.9" r="4.45"/><circle cx="134.22" cy="364.9" r="4.45"/><circle cx="146.55" cy="364.9" r="4.45"/><circle cx="158.88" cy="364.9" r="4.45"/><circle cx="171.21" cy="364.9" r="4.45"/><circle cx="183.54" cy="364.9" r="4.45"/><circle cx="195.87" cy="364.9" r="4.45"/><circle cx="208.2" cy="364.9" r="4.45"/><circle cx="220.53" cy="364.9" r="4.45"/><circle cx="232.86" cy="364.9" r="4.45"/><circle cx="245.19" cy="364.9" r="4.45"/><circle cx="91.1" cy="374.98" r="4.45"/><circle cx="103.43" cy="374.98" r="4.45"/><circle cx="115.76" cy="374.98" r="4.45"/><circle cx="128.09" cy="374.98" r="4.45"/><circle cx="140.42" cy="374.98" r="4.45"/><circle cx="152.75" cy="374.98" r="4.45"/><circle cx="165.08" cy="374.98" r="4.45"/><circle cx="177.41" cy="374.98" r="4.45"/><circle cx="189.74" cy="374.98" r="4.45"/><circle cx="202.07" cy="374.98" r="4.45"/><circle cx="214.4" cy="374.98" r="4.45"/><circle cx="226.73" cy="374.98" r="4.45"/><circle cx="239.06" cy="374.98" r="4.45"/><circle cx="84.9" cy="385.06" r="4.45"/><circle cx="97.23" cy="385.06" r="4.45"/><circle cx="109.56" cy="385.06" r="4.45"/><circle cx="121.89" cy="385.06" r="4.45"/><circle cx="134.22" cy="385.06" r="4.45"/><circle cx="146.55" cy="385.06" r="4.45"/><circle cx="158.88" cy="385.06" r="4.45"/><circle cx="171.21" cy="385.06" r="4.45"/><circle cx="183.54" cy="385.06" r="4.45"/><circle cx="195.87" cy="385.06" r="4.45"/><circle cx="208.2" cy="385.06" r="4.45"/><circle cx="220.53" cy="385.06" r="4.45"/><circle cx="232.86" cy="385.06" r="4.45"/><circle cx="245.19" cy="385.06" r="4.45"/><circle cx="91.1" cy="395.14" r="4.45"/><circle cx="103.43" cy="395.14" r="4.45"/><circle cx="115.76" cy="395.14" r="4.45"/><circle cx="128.09" cy="395.14" r="4.45"/><circle cx="140.42" cy="395.14" r="4.45"/><circle cx="152.75" cy="395.14" r="4.45"/><circle cx="165.08" cy="395.14" r="4.45"/><circle cx="177.41" cy="395.14" r="4.45"/><circle cx="189.74" cy="395.14" r="4.45"/><circle cx="202.07" cy="395.14" r="4.45"/><circle cx="214.4" cy="395.14" r="4.45"/><circle cx="226.73" cy="395.14" r="4.45"/><circle cx="239.06" cy="395.14" r="4.45"/><circle cx="146.55" cy="405.22" r="4.45"/><circle cx="158.88" cy="405.22" r="4.45"/><circle cx="171.21" cy="405.22" r="4.45"/><circle cx="183.54" cy="405.22" r="4.45"/><circle cx="91.1" cy="415.3" r="4.45"/><circle cx="103.43" cy="415.3" r="4.45"/><circle cx="115.76" cy="415.3" r="4.45"/><circle cx="128.09" cy="415.3" r="4.45"/><circle cx="140.42" cy="415.3" r="4.45"/><circle cx="152.75" cy="415.3" r="4.45"/><circle cx="165.08" cy="415.3" r="4.45"/><circle cx="177.41" cy="415.3" r="4.45"/><circle cx="189.74" cy="415.3" r="4.45"/><circle cx="202.07" cy="415.3" r="4.45"/><circle cx="214.4" cy="415.3" r="4.45"/><circle cx="226.73" cy="415.3" r="4.45"/><circle cx="239.06" cy="415.3" r="4.45"/><circle cx="84.9" cy="425.38" r="4.45"/><circle cx="97.23" cy="425.38" r="4.45"/><circle cx="109.56" cy="425.38" r="4.45"/><circle cx="121.89" cy="425.38" r="4.45"/><circle cx="134.22" cy="425.38" r="4.45"/><circle cx="146.55" cy="425.38" r="4.45"/><circle cx="158.88" cy="425.38" r="4.45"/><circle cx="171.21" cy="425.38" r="4.45"/><circle cx="183.54" cy="425.38" r="4.45"/><circle cx="195.87" cy="425.38" r="4.45"/><circle cx="208.2" cy="425.38" r="4.45"/><circle cx="220.53" cy="425.38" r="4.45"/><circle cx="232.86" cy="425.38" r="4.45"/><circle cx="245.19" cy="425.38" r="4.45"/><circle cx="84.9" cy="450" r="4.45"/><circle cx="97.23" cy="450" r="4.45"/><circle cx="109.56" cy="450" r="4.45"/><circle cx="121.89" cy="450" r="4.45"/><circle cx="134.22" cy="450" r="4.45"/><circle cx="146.55" cy="450" r="4.45"/><circle cx="158.88" cy="450" r="4.45"/><circle cx="171.21" cy="450" r="4.45"/><circle cx="183.54" cy="450" r="4.45"/><circle cx="195.87" cy="450" r="4.45"/><circle cx="208.2" cy="450" r="4.45"/><circle cx="220.53" cy="450" r="4.45"/><circle cx="232.86" cy="450" r="4.45"/><circle cx="245.19" cy="450" r="4.45"/><circle cx="91.1" cy="459.97" r="4.45"/><circle cx="103.43" cy="459.97" r="4.45"/><circle cx="115.76" cy="459.97" r="4.45"/><circle cx="128.09" cy="459.97" r="4.45"/><circle cx="140.42" cy="459.97" r="4.45"/><circle cx="152.75" cy="459.97" r="4.45"/><circle cx="165.08" cy="459.97" r="4.45"/><circle cx="177.41" cy="459.97" r="4.45"/><circle cx="189.74" cy="459.97" r="4.45"/><circle cx="202.07" cy="459.97" r="4.45"/><circle cx="214.4" cy="459.97" r="4.45"/><circle cx="226.73" cy="459.97" r="4.45"/><circle cx="239.06" cy="459.97" r="4.45"/><circle cx="84.9" cy="469.94" r="4.45"/><circle cx="97.23" cy="469.94" r="4.45"/><circle cx="109.56" cy="469.94" r="4.45"/><circle cx="121.89" cy="469.94" r="4.45"/><circle cx="134.22" cy="469.94" r="4.45"/><circle cx="146.55" cy="469.94" r="4.45"/><circle cx="158.88" cy="469.94" r="4.45"/><circle cx="171.21" cy="469.94" r="4.45"/><circle cx="183.54" cy="469.94" r="4.45"/><circle cx="195.87" cy="469.94" r="4.45"/><circle cx="208.2" cy="469.94" r="4.45"/><circle cx="220.53" cy="469.94" r="4.45"/><circle cx="232.86" cy="469.94" r="4.45"/><circle cx="245.19" cy="469.94" r="4.45"/><circle cx="91.1" cy="479.91" r="4.45"/><circle cx="103.43" cy="479.91" r="4.45"/><circle cx="115.76" cy="479.91" r="4.45"/><circle cx="128.09" cy="479.91" r="4.45"/><circle cx="140.42" cy="479.91" r="4.45"/><circle cx="152.75" cy="479.91" r="4.45"/><circle cx="165.08" cy="479.91" r="4.45"/><circle cx="177.41" cy="479.91" r="4.45"/><circle cx="189.74" cy="479.91" r="4.45"/><circle cx="202.07" cy="479.91" r="4.45"/><circle cx="214.4" cy="479.91" r="4.45"/><circle cx="226.73" cy="479.91" r="4.45"/><circle cx="239.06" cy="479.91" r="4.45"/><circle cx="84.9" cy="489.88" r="4.45"/><circle cx="97.23" cy="489.88" r="4.45"/><circle cx="109.56" cy="489.88" r="4.45"/><circle cx="121.89" cy="489.88" r="4.45"/><circle cx="134.22" cy="489.88" r="4.45"/><circle cx="146.55" cy="489.88" r="4.45"/><circle cx="158.88" cy="489.88" r="4.45"/><circle cx="171.21" cy="489.88" r="4.45"/><circle cx="183.54" cy="489.88" r="4.45"/><circle cx="195.87" cy="489.88" r="4.45"/><circle cx="208.2" cy="489.88" r="4.45"/><circle cx="220.53" cy="489.88" r="4.45"/><circle cx="232.86" cy="489.88" r="4.45"/><circle cx="245.19" cy="489.88" r="4.45"/><circle cx="91.1" cy="499.85" r="4.45"/><circle cx="103.43" cy="499.85" r="4.45"/><circle cx="115.76" cy="499.85" r="4.45"/><circle cx="128.09" cy="499.85" r="4.45"/><circle cx="140.42" cy="499.85" r="4.45"/><circle cx="152.75" cy="499.85" r="4.45"/><circle cx="165.08" cy="499.85" r="4.45"/><circle cx="177.41" cy="499.85" r="4.45"/><circle cx="189.74" cy="499.85" r="4.45"/><circle cx="202.07" cy="499.85" r="4.45"/><circle cx="214.4" cy="499.85" r="4.45"/><circle cx="226.73" cy="499.85" r="4.45"/><circle cx="239.06" cy="499.85" r="4.45"/><circle cx="84.9" cy="509.82" r="4.45"/><circle cx="97.23" cy="509.82" r="4.45"/><circle cx="109.56" cy="509.82" r="4.45"/><circle cx="121.89" cy="509.82" r="4.45"/><circle cx="134.22" cy="509.82" r="4.45"/><circle cx="146.55" cy="509.82" r="4.45"/><circle cx="158.88" cy="509.82" r="4.45"/><circle cx="171.21" cy="509.82" r="4.45"/><circle cx="183.54" cy="509.82" r="4.45"/><circle cx="195.87" cy="509.82" r="4.45"/><circle cx="208.2" cy="509.82" r="4.45"/><circle cx="220.53" cy="509.82" r="4.45"/><circle cx="232.86" cy="509.82" r="4.45"/><circle cx="245.19" cy="509.82" r="4.45"/></g>
<rect x="80" y="436.9" width="171" height="2.4" fill="#4a68c0" fill-opacity="0.7"/>
<line x1="80" x2="251" y1="436.4" y2="436.4" stroke="#1d1c4c" stroke-width="0.9"/>
<ellipse cx="111.3" cy="438.2" rx="4.5" ry="1.5" fill="url(#spY)"/>
<ellipse cx="135.1" cy="438.2" rx="5.0" ry="1.5" fill="url(#spR)"/>
<ellipse cx="147.5" cy="438.2" rx="4.0" ry="1.5" fill="url(#spY)"/>
<ellipse cx="158.8" cy="438.2" rx="5.0" ry="1.5" fill="url(#spR)"/>
<ellipse cx="172" cy="438.2" rx="5.0" ry="1.5" fill="url(#spR)"/>
<ellipse cx="181.5" cy="438.2" rx="4.0" ry="1.5" fill="url(#spY)"/>
<ellipse cx="196.2" cy="438.2" rx="5.0" ry="1.5" fill="url(#spR)"/>
<ellipse cx="220" cy="438.2" rx="4.5" ry="1.5" fill="url(#spY)"/>
<ellipse cx="246" cy="438.2" rx="4.5" ry="1.5" fill="url(#spC)"/>
<ellipse cx="96" cy="438.2" rx="3.0" ry="1.5" fill="url(#spC)"/>
<ellipse cx="86" cy="438.2" rx="2.5" ry="1.5" fill="url(#spC)"/>
<g fill="none" stroke="#1d1c4c" stroke-width="0.9">
<path d="M80,400 H17 V411 H80"/><line x1="26.4" x2="26.4" y1="400" y2="411"/>
<path d="M251,400 H313.4 V411 H251"/><line x1="304.2" x2="304.2" y1="400" y2="411"/>
<path d="M80,359.1 H251 V400 M251,411 V516 H80 V411 M80,400 V359.1"/>
</g>
<rect x="419.2" y="358" width="165.8" height="161" fill="#3c5ab8"/>
<path d="M462,396 L482,420 L500,434 L518,420 L540,396" fill="none" stroke="#6c9ad8" stroke-opacity="0.35" stroke-width="16" stroke-linejoin="round" stroke-linecap="round" filter="url(#bl2)"/><ellipse cx="500" cy="439" rx="50" ry="9" fill="#6c9ade" fill-opacity="0.3" filter="url(#bl2)"/><rect x="419" y="389.8" width="50" height="10.8" fill="#4a78c8" filter="url(#bl1)"/><rect x="540" y="390" width="45" height="10.5" fill="#4a6cc0" fill-opacity="0.5" filter="url(#bl1)"/><path d="M463.75,405.9 A4.5,4.5 0 0 1 464.46,397.77 M469.75,413.9 A4.5,4.5 0 0 1 470.46,405.77 M475.75,421.9 A4.5,4.5 0 0 1 476.46,413.77 M481.75,427.9 A4.5,4.5 0 0 1 482.46,419.77 M487.75,431.9 A4.5,4.5 0 0 1 488.46,423.77 M537.54,397.77 A4.5,4.5 0 0 1 538.25,405.9 M531.54,405.77 A4.5,4.5 0 0 1 532.25,413.9 M525.54,413.77 A4.5,4.5 0 0 1 526.25,421.9 M519.54,419.77 A4.5,4.5 0 0 1 520.25,427.9 M513.54,423.77 A4.5,4.5 0 0 1 514.25,431.9 M456.83,437.12 A5.5,5.5 0 0 1 467.17,437.12 M467.17,441.88 A5.5,5.5 0 0 1 456.83,441.88 M466.83,437.12 A5.5,5.5 0 0 1 477.17,437.12 M477.17,441.88 A5.5,5.5 0 0 1 466.83,441.88 M478.83,437.12 A5.5,5.5 0 0 1 489.17,437.12 M489.17,441.88 A5.5,5.5 0 0 1 478.83,441.88 M490.83,437.12 A5.5,5.5 0 0 1 501.17,437.12 M501.17,441.88 A5.5,5.5 0 0 1 490.83,441.88 M501.83,437.12 A5.5,5.5 0 0 1 512.17,437.12 M512.17,441.88 A5.5,5.5 0 0 1 501.83,441.88 M513.83,437.12 A5.5,5.5 0 0 1 524.17,437.12 M524.17,441.88 A5.5,5.5 0 0 1 513.83,441.88 M525.83,437.12 A5.5,5.5 0 0 1 536.17,437.12 M536.17,441.88 A5.5,5.5 0 0 1 525.83,441.88 M537.83,437.12 A5.5,5.5 0 0 1 548.17,437.12 M548.17,441.88 A5.5,5.5 0 0 1 537.83,441.88" fill="none" stroke="#9adcec" stroke-opacity="0.6" stroke-width="1.2" filter="url(#bl15)"/><path d="M549,395 A3,2.5 0 1 1 549,394.96 M583,395 A3,2.5 0 1 1 583,394.96" fill="none" stroke="#88b4e0" stroke-opacity="0.35" stroke-width="0.8" filter="url(#bl15)"/><g filter="url(#bl1)"><ellipse cx="557.5" cy="395.3" rx="2.6" ry="1.3" fill="#90d8ee" fill-opacity="0.75"/><ellipse cx="567.5" cy="395.3" rx="2.6" ry="1.3" fill="#90d8ee" fill-opacity="0.75"/></g>
<rect x="352.1" y="389.4" width="67.6" height="11.5" fill="#4c76c8"/>
<g filter="url(#bl1)"><ellipse cx="356.5" cy="394.4" rx="1.45" ry="3.3" fill="#8cdcf0" fill-opacity="0.85" transform="rotate(24 356.5 394.4)"/><ellipse cx="362" cy="396.1" rx="1.45" ry="3.3" fill="#8cdcf0" fill-opacity="0.85" transform="rotate(-18 362 396.1)"/><ellipse cx="367.5" cy="395.2" rx="1.45" ry="3.3" fill="#8cdcf0" fill-opacity="0.85" transform="rotate(24 367.5 395.2)"/><ellipse cx="373" cy="394.4" rx="1.45" ry="3.3" fill="#8cdcf0" fill-opacity="0.85" transform="rotate(-18 373 394.4)"/><ellipse cx="378.5" cy="396.1" rx="1.45" ry="3.3" fill="#8cdcf0" fill-opacity="0.85" transform="rotate(24 378.5 396.1)"/><ellipse cx="384" cy="395.2" rx="1.45" ry="3.3" fill="#8cdcf0" fill-opacity="0.85" transform="rotate(-18 384 395.2)"/><ellipse cx="389.5" cy="394.4" rx="1.45" ry="3.3" fill="#8cdcf0" fill-opacity="0.85" transform="rotate(24 389.5 394.4)"/><ellipse cx="395" cy="396.1" rx="1.45" ry="3.3" fill="#8cdcf0" fill-opacity="0.85" transform="rotate(-18 395 396.1)"/><ellipse cx="400.5" cy="395.2" rx="1.45" ry="3.3" fill="#8cdcf0" fill-opacity="0.85" transform="rotate(24 400.5 395.2)"/><ellipse cx="406" cy="394.4" rx="1.45" ry="3.3" fill="#8cdcf0" fill-opacity="0.85" transform="rotate(-18 406 394.4)"/><ellipse cx="411.5" cy="396.1" rx="1.45" ry="3.3" fill="#8cdcf0" fill-opacity="0.85" transform="rotate(24 411.5 396.1)"/><ellipse cx="417" cy="395.2" rx="1.45" ry="3.3" fill="#8cdcf0" fill-opacity="0.85" transform="rotate(-18 417 395.2)"/></g>
<g filter="url(#bl1)"><ellipse cx="422" cy="394.4" rx="1.45" ry="4.2" fill="#8cdcf0" fill-opacity="0.7" transform="rotate(24 422 394.4)"/><ellipse cx="427.6" cy="396.1" rx="1.45" ry="4.2" fill="#8cdcf0" fill-opacity="0.7" transform="rotate(-18 427.6 396.1)"/><ellipse cx="433.2" cy="395.2" rx="1.45" ry="4.2" fill="#8cdcf0" fill-opacity="0.7" transform="rotate(24 433.2 395.2)"/><ellipse cx="438.8" cy="394.4" rx="1.45" ry="4.2" fill="#8cdcf0" fill-opacity="0.7" transform="rotate(-18 438.8 394.4)"/><ellipse cx="444.4" cy="396.1" rx="1.45" ry="4.2" fill="#8cdcf0" fill-opacity="0.7" transform="rotate(24 444.4 396.1)"/><ellipse cx="450" cy="395.2" rx="1.45" ry="4.2" fill="#8cdcf0" fill-opacity="0.7" transform="rotate(-18 450 395.2)"/><ellipse cx="455.6" cy="394.4" rx="1.45" ry="4.2" fill="#8cdcf0" fill-opacity="0.7" transform="rotate(24 455.6 394.4)"/><ellipse cx="461.2" cy="396.1" rx="1.45" ry="4.2" fill="#8cdcf0" fill-opacity="0.7" transform="rotate(-18 461.2 396.1)"/><ellipse cx="466.8" cy="395.2" rx="1.45" ry="4.2" fill="#8cdcf0" fill-opacity="0.7" transform="rotate(24 466.8 395.2)"/></g>
<rect x="584.5" y="389.2" width="68" height="11.4" fill="#3c5ab8"/>
<path d="M599.5,395 A3.5,2 0 1 1 599.5,394.97 M615.5,395 A3.5,2 0 1 1 615.5,394.97 M629.5,395 A3.5,2 0 1 1 629.5,394.97" fill="none" stroke="#6a94d8" stroke-opacity="0.3" stroke-width="0.8" filter="url(#bl15)"/>
<circle cx="478.26" cy="394.85" r="4.5" fill="url(#hL)"/><circle cx="460.12" cy="405.1" r="4.5" fill="url(#fR)"/><circle cx="484.2" cy="405.1" r="4.5" fill="url(#hBL)"/><circle cx="520.32" cy="405.1" r="4.5" fill="url(#hBR)"/><circle cx="544.4" cy="405.1" r="4.5" fill="url(#fL)"/><circle cx="466.22" cy="415.35" r="4.5" fill="url(#hR)"/><circle cx="538.46" cy="415.35" r="4.5" fill="url(#hBL)"/><circle cx="454.18" cy="415.35" r="4.5" fill="url(#fC)"/><circle cx="472.16" cy="425.6" r="4.5" fill="url(#hB)"/><circle cx="496.24" cy="425.6" r="4.5" fill="url(#hYB)"/><circle cx="520.32" cy="425.6" r="4.5" fill="url(#hB)"/><circle cx="532.36" cy="425.6" r="4.5" fill="url(#hB)"/><circle cx="484.2" cy="425.6" r="4.5" fill="url(#fB)"/><circle cx="508.28" cy="425.6" r="4.5" fill="url(#fB)"/><circle cx="448.08" cy="425.6" r="4.5" fill="url(#fB)"/><circle cx="556.44" cy="425.6" r="4.5" fill="url(#fB)"/><circle cx="472.16" cy="451.2" r="4.5" fill="url(#hT)"/><circle cx="496.24" cy="451.2" r="4.5" fill="url(#hT)"/><circle cx="520.32" cy="451.2" r="4.5" fill="url(#hT)"/><circle cx="532.36" cy="451.2" r="4.5" fill="url(#hT)"/><circle cx="556.44" cy="451.2" r="4.5" fill="url(#hT)"/><circle cx="484.2" cy="451.2" r="4.5" fill="url(#fT)"/><circle cx="508.28" cy="451.2" r="4.5" fill="url(#fT)"/><circle cx="532.36" cy="384.6" r="4.5" fill="url(#fB)"/><circle cx="544.4" cy="384.6" r="4.5" fill="url(#hB)"/><circle cx="556.44" cy="384.6" r="4.5" fill="url(#hB)"/><circle cx="568.48" cy="384.6" r="4.5" fill="url(#hB)"/><circle cx="556.44" cy="405.1" r="4.5" fill="url(#hT)"/><circle cx="568.48" cy="405.1" r="4.5" fill="url(#hT)"/><circle cx="472.16" cy="384.6" r="4.5" fill="url(#fB)"/><circle cx="484.2" cy="384.6" r="4.5" fill="url(#fB)"/><circle cx="448.08" cy="405.1" r="4.5" fill="url(#fB)"/><circle cx="436.04" cy="405.1" r="4.5" fill="url(#fC)"/>
<g fill="none" stroke="#1d1c4c" stroke-width="1.0"><circle cx="424" cy="364.1" r="4.5"/><circle cx="436.04" cy="364.1" r="4.5"/><circle cx="448.08" cy="364.1" r="4.5"/><circle cx="460.12" cy="364.1" r="4.5"/><circle cx="472.16" cy="364.1" r="4.5"/><circle cx="484.2" cy="364.1" r="4.5"/><circle cx="496.24" cy="364.1" r="4.5"/><circle cx="508.28" cy="364.1" r="4.5"/><circle cx="520.32" cy="364.1" r="4.5"/><circle cx="532.36" cy="364.1" r="4.5"/><circle cx="544.4" cy="364.1" r="4.5"/><circle cx="556.44" cy="364.1" r="4.5"/><circle cx="568.48" cy="364.1" r="4.5"/><circle cx="580.52" cy="364.1" r="4.5"/><circle cx="430.1" cy="374.35" r="4.5"/><circle cx="442.14" cy="374.35" r="4.5"/><circle cx="454.18" cy="374.35" r="4.5"/><circle cx="466.22" cy="374.35" r="4.5"/><circle cx="478.26" cy="374.35" r="4.5"/><circle cx="490.3" cy="374.35" r="4.5"/><circle cx="502.34" cy="374.35" r="4.5"/><circle cx="514.38" cy="374.35" r="4.5"/><circle cx="526.42" cy="374.35" r="4.5"/><circle cx="538.46" cy="374.35" r="4.5"/><circle cx="550.5" cy="374.35" r="4.5"/><circle cx="562.54" cy="374.35" r="4.5"/><circle cx="574.58" cy="374.35" r="4.5"/><circle cx="424" cy="384.6" r="4.5"/><circle cx="436.04" cy="384.6" r="4.5"/><circle cx="448.08" cy="384.6" r="4.5"/><circle cx="460.12" cy="384.6" r="4.5"/><circle cx="472.16" cy="384.6" r="4.5"/><circle cx="484.2" cy="384.6" r="4.5"/><circle cx="496.24" cy="384.6" r="4.5"/><circle cx="508.28" cy="384.6" r="4.5"/><circle cx="520.32" cy="384.6" r="4.5"/><circle cx="532.36" cy="384.6" r="4.5"/><circle cx="544.4" cy="384.6" r="4.5"/><circle cx="556.44" cy="384.6" r="4.5"/><circle cx="568.48" cy="384.6" r="4.5"/><circle cx="580.52" cy="384.6" r="4.5"/><circle cx="478.26" cy="394.85" r="4.5"/><circle cx="490.3" cy="394.85" r="4.5"/><circle cx="502.34" cy="394.85" r="4.5"/><circle cx="514.38" cy="394.85" r="4.5"/><circle cx="526.42" cy="394.85" r="4.5"/><circle cx="424" cy="405.1" r="4.5"/><circle cx="436.04" cy="405.1" r="4.5"/><circle cx="448.08" cy="405.1" r="4.5"/><circle cx="460.12" cy="405.1" r="4.5"/><circle cx="484.2" cy="405.1" r="4.5"/><circle cx="496.24" cy="405.1" r="4.5"/><circle cx="508.28" cy="405.1" r="4.5"/><circle cx="520.32" cy="405.1" r="4.5"/><circle cx="544.4" cy="405.1" r="4.5"/><circle cx="556.44" cy="405.1" r="4.5"/><circle cx="568.48" cy="405.1" r="4.5"/><circle cx="580.52" cy="405.1" r="4.5"/><circle cx="430.1" cy="415.35" r="4.5"/><circle cx="442.14" cy="415.35" r="4.5"/><circle cx="454.18" cy="415.35" r="4.5"/><circle cx="466.22" cy="415.35" r="4.5"/><circle cx="490.3" cy="415.35" r="4.5"/><circle cx="502.34" cy="415.35" r="4.5"/><circle cx="514.38" cy="415.35" r="4.5"/><circle cx="538.46" cy="415.35" r="4.5"/><circle cx="550.5" cy="415.35" r="4.5"/><circle cx="562.54" cy="415.35" r="4.5"/><circle cx="574.58" cy="415.35" r="4.5"/><circle cx="424" cy="425.6" r="4.5"/><circle cx="436.04" cy="425.6" r="4.5"/><circle cx="448.08" cy="425.6" r="4.5"/><circle cx="460.12" cy="425.6" r="4.5"/><circle cx="472.16" cy="425.6" r="4.5"/><circle cx="484.2" cy="425.6" r="4.5"/><circle cx="496.24" cy="425.6" r="4.5"/><circle cx="508.28" cy="425.6" r="4.5"/><circle cx="520.32" cy="425.6" r="4.5"/><circle cx="532.36" cy="425.6" r="4.5"/><circle cx="544.4" cy="425.6" r="4.5"/><circle cx="556.44" cy="425.6" r="4.5"/><circle cx="568.48" cy="425.6" r="4.5"/><circle cx="580.52" cy="425.6" r="4.5"/><circle cx="424" cy="451.2" r="4.5"/><circle cx="436.04" cy="451.2" r="4.5"/><circle cx="448.08" cy="451.2" r="4.5"/><circle cx="460.12" cy="451.2" r="4.5"/><circle cx="472.16" cy="451.2" r="4.5"/><circle cx="484.2" cy="451.2" r="4.5"/><circle cx="496.24" cy="451.2" r="4.5"/><circle cx="508.28" cy="451.2" r="4.5"/><circle cx="520.32" cy="451.2" r="4.5"/><circle cx="532.36" cy="451.2" r="4.5"/><circle cx="544.4" cy="451.2" r="4.5"/><circle cx="556.44" cy="451.2" r="4.5"/><circle cx="568.48" cy="451.2" r="4.5"/><circle cx="580.52" cy="451.2" r="4.5"/><circle cx="430.1" cy="461.47" r="4.5"/><circle cx="442.14" cy="461.47" r="4.5"/><circle cx="454.18" cy="461.47" r="4.5"/><circle cx="466.22" cy="461.47" r="4.5"/><circle cx="478.26" cy="461.47" r="4.5"/><circle cx="490.3" cy="461.47" r="4.5"/><circle cx="502.34" cy="461.47" r="4.5"/><circle cx="514.38" cy="461.47" r="4.5"/><circle cx="526.42" cy="461.47" r="4.5"/><circle cx="538.46" cy="461.47" r="4.5"/><circle cx="550.5" cy="461.47" r="4.5"/><circle cx="562.54" cy="461.47" r="4.5"/><circle cx="574.58" cy="461.47" r="4.5"/><circle cx="424" cy="471.74" r="4.5"/><circle cx="436.04" cy="471.74" r="4.5"/><circle cx="448.08" cy="471.74" r="4.5"/><circle cx="460.12" cy="471.74" r="4.5"/><circle cx="472.16" cy="471.74" r="4.5"/><circle cx="484.2" cy="471.74" r="4.5"/><circle cx="496.24" cy="471.74" r="4.5"/><circle cx="508.28" cy="471.74" r="4.5"/><circle cx="520.32" cy="471.74" r="4.5"/><circle cx="532.36" cy="471.74" r="4.5"/><circle cx="544.4" cy="471.74" r="4.5"/><circle cx="556.44" cy="471.74" r="4.5"/><circle cx="568.48" cy="471.74" r="4.5"/><circle cx="580.52" cy="471.74" r="4.5"/><circle cx="430.1" cy="482.01" r="4.5"/><circle cx="442.14" cy="482.01" r="4.5"/><circle cx="454.18" cy="482.01" r="4.5"/><circle cx="466.22" cy="482.01" r="4.5"/><circle cx="478.26" cy="482.01" r="4.5"/><circle cx="490.3" cy="482.01" r="4.5"/><circle cx="502.34" cy="482.01" r="4.5"/><circle cx="514.38" cy="482.01" r="4.5"/><circle cx="526.42" cy="482.01" r="4.5"/><circle cx="538.46" cy="482.01" r="4.5"/><circle cx="550.5" cy="482.01" r="4.5"/><circle cx="562.54" cy="482.01" r="4.5"/><circle cx="574.58" cy="482.01" r="4.5"/><circle cx="424" cy="492.28" r="4.5"/><circle cx="436.04" cy="492.28" r="4.5"/><circle cx="448.08" cy="492.28" r="4.5"/><circle cx="460.12" cy="492.28" r="4.5"/><circle cx="472.16" cy="492.28" r="4.5"/><circle cx="484.2" cy="492.28" r="4.5"/><circle cx="496.24" cy="492.28" r="4.5"/><circle cx="508.28" cy="492.28" r="4.5"/><circle cx="520.32" cy="492.28" r="4.5"/><circle cx="532.36" cy="492.28" r="4.5"/><circle cx="544.4" cy="492.28" r="4.5"/><circle cx="556.44" cy="492.28" r="4.5"/><circle cx="568.48" cy="492.28" r="4.5"/><circle cx="580.52" cy="492.28" r="4.5"/><circle cx="430.1" cy="502.55" r="4.5"/><circle cx="442.14" cy="502.55" r="4.5"/><circle cx="454.18" cy="502.55" r="4.5"/><circle cx="466.22" cy="502.55" r="4.5"/><circle cx="478.26" cy="502.55" r="4.5"/><circle cx="490.3" cy="502.55" r="4.5"/><circle cx="502.34" cy="502.55" r="4.5"/><circle cx="514.38" cy="502.55" r="4.5"/><circle cx="526.42" cy="502.55" r="4.5"/><circle cx="538.46" cy="502.55" r="4.5"/><circle cx="550.5" cy="502.55" r="4.5"/><circle cx="562.54" cy="502.55" r="4.5"/><circle cx="574.58" cy="502.55" r="4.5"/><circle cx="424" cy="512.82" r="4.5"/><circle cx="436.04" cy="512.82" r="4.5"/><circle cx="448.08" cy="512.82" r="4.5"/><circle cx="460.12" cy="512.82" r="4.5"/><circle cx="472.16" cy="512.82" r="4.5"/><circle cx="484.2" cy="512.82" r="4.5"/><circle cx="496.24" cy="512.82" r="4.5"/><circle cx="508.28" cy="512.82" r="4.5"/><circle cx="520.32" cy="512.82" r="4.5"/><circle cx="532.36" cy="512.82" r="4.5"/><circle cx="544.4" cy="512.82" r="4.5"/><circle cx="556.44" cy="512.82" r="4.5"/><circle cx="568.48" cy="512.82" r="4.5"/><circle cx="580.52" cy="512.82" r="4.5"/></g>
<rect x="419.2" y="438.3" width="165.8" height="2.4" fill="#4a68c0" fill-opacity="0.7"/>
<line x1="419.2" x2="585" y1="437.8" y2="437.8" stroke="#1d1c4c" stroke-width="0.9"/>
<ellipse cx="448.2" cy="439.5" rx="4.0" ry="1.4" fill="url(#spC)"/>
<ellipse cx="462.6" cy="439.5" rx="4.0" ry="1.4" fill="url(#spY)"/>
<ellipse cx="472.5" cy="439.5" rx="3.5" ry="1.4" fill="url(#spC)"/>
<ellipse cx="484.5" cy="439.5" rx="4.5" ry="1.4" fill="url(#spR)"/>
<ellipse cx="495.8" cy="439.5" rx="3.5" ry="1.4" fill="url(#spC)"/>
<ellipse cx="507.3" cy="439.5" rx="4.5" ry="1.4" fill="url(#spR)"/>
<ellipse cx="519.8" cy="439.5" rx="4.0" ry="1.4" fill="url(#spY)"/>
<ellipse cx="530.6" cy="439.5" rx="4.0" ry="1.4" fill="url(#spY)"/>
<ellipse cx="543" cy="439.5" rx="4.0" ry="1.4" fill="url(#spY)"/>
<ellipse cx="565.7" cy="439.5" rx="4.0" ry="1.4" fill="url(#spC)"/>
<ellipse cx="435" cy="439.5" rx="2.5" ry="1.4" fill="url(#spC)"/>
<ellipse cx="555" cy="439.5" rx="2.5" ry="1.4" fill="url(#spC)"/>
<g fill="none" stroke="#1d1c4c" stroke-width="0.9">
<path d="M419.3,389.4 H352.1 V400.9 H419.3"/><line x1="367.3" x2="367.3" y1="389.4" y2="400.9"/>
<path d="M585,389.2 H652.5 V400.6 H585"/><line x1="637.7" x2="637.7" y1="389.2" y2="400.6"/>
<path d="M419.2,358 H585 V389.2 M585,400.6 V519 H419.2 V400.9 M419.2,389.4 V358"/>
</g>
<text x="153.7" y="538.2" font-size="19" text-anchor="middle">(d)</text>
<text x="497.8" y="537" font-size="19" text-anchor="middle">(e)</text>
</svg>
</body></html>
